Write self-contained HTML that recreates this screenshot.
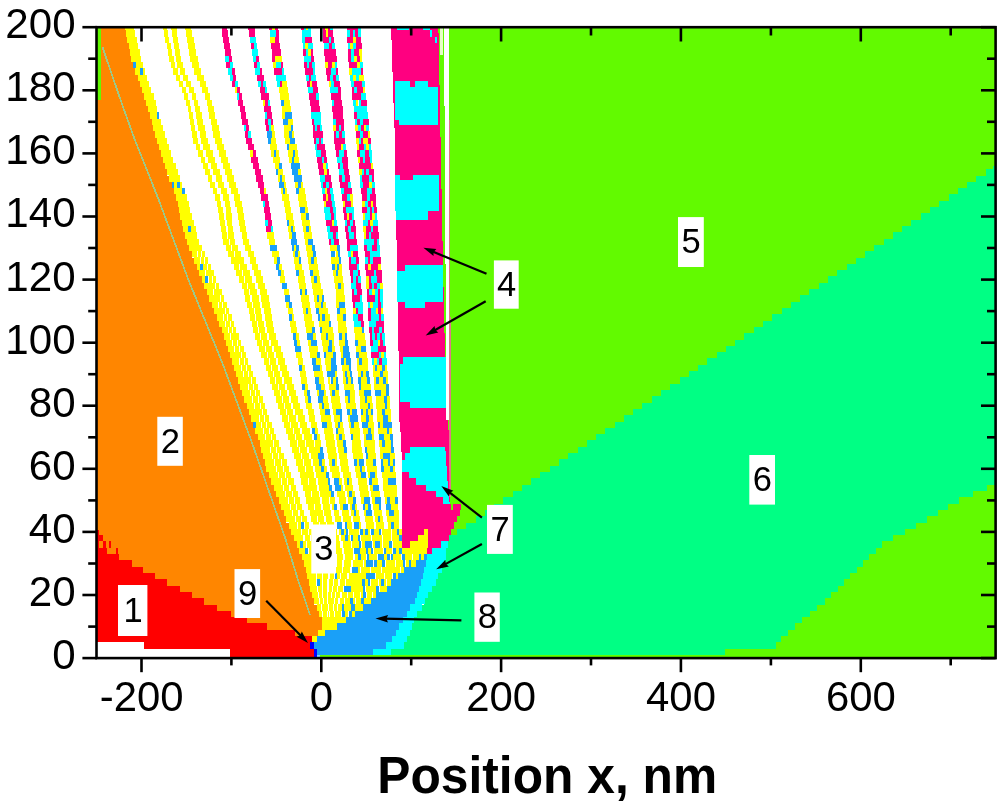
<!DOCTYPE html>
<html><head><meta charset="utf-8"><style>
html,body{margin:0;padding:0;background:#fff;}
svg{display:block;}
.tl{font-family:"Liberation Sans",Arial,sans-serif;font-size:43.2px;fill:#000;}
.title{font-family:"Liberation Sans",Arial,sans-serif;font-size:51.8px;font-weight:bold;fill:#000;}
.an{font-family:"Liberation Sans",Arial,sans-serif;font-size:34.5px;fill:#000;}
</style></head><body>
<svg width="1004" height="808" viewBox="0 0 1004 808">
<defs>
<clipPath id="pc"><rect x="96.5" y="27.2" width="899.1" height="630.9"/></clipPath>
</defs>
<rect width="1004" height="808" fill="#fff"/>
<g clip-path="url(#pc)" shape-rendering="crispEdges">
<rect x="96.5" y="27.2" width="899.1" height="630.9" fill="#62fa00"/>
<polygon points="124.8,27.2 124.8,30.4 125.9,30.4 125.9,36.7 127.3,36.7 127.3,43.0 128.7,43.0 128.7,49.3 130.1,49.3 130.1,55.6 131.4,55.6 131.4,61.9 133.0,61.9 133.0,68.2 135.2,68.2 135.2,74.5 137.5,74.5 137.5,80.8 139.8,80.8 139.8,87.1 142.0,87.1 142.0,93.4 144.3,93.4 144.3,99.8 146.3,99.8 146.3,106.1 148.0,106.1 148.0,112.4 149.8,112.4 149.8,118.7 151.5,118.7 151.5,125.0 153.2,125.0 153.2,131.3 155.0,131.3 155.0,137.6 156.8,137.6 156.8,143.9 158.9,143.9 158.9,150.2 161.0,150.2 161.0,156.5 163.1,156.5 163.1,162.8 165.2,162.8 165.2,169.2 167.3,169.2 167.3,175.5 169.4,175.5 169.4,181.8 171.5,181.8 171.5,188.1 173.7,188.1 173.7,194.4 175.8,194.4 175.8,200.7 177.5,200.7 177.5,207.0 178.9,207.0 178.9,213.3 180.4,213.3 180.4,219.6 181.8,219.6 181.8,225.9 183.3,225.9 183.3,232.2 184.7,232.2 184.7,238.6 186.5,238.6 186.5,244.9 189.0,244.9 189.0,251.2 191.6,251.2 191.6,257.5 194.1,257.5 194.1,263.8 196.7,263.8 196.7,270.1 199.2,270.1 199.2,276.4 201.8,276.4 201.8,282.7 204.3,282.7 204.3,289.0 206.8,289.0 206.8,295.3 209.3,295.3 209.3,301.6 211.7,301.6 211.7,308.0 214.2,308.0 214.2,314.3 216.6,314.3 216.6,320.6 219.1,320.6 219.1,326.9 221.5,326.9 221.5,333.2 223.6,333.2 223.6,339.5 225.7,339.5 225.7,345.8 227.8,345.8 227.8,352.1 229.8,352.1 229.8,358.4 231.9,358.4 231.9,364.7 234.0,364.7 234.0,371.0 236.1,371.0 236.1,377.3 238.2,377.3 238.2,383.7 240.2,383.7 240.2,390.0 242.3,390.0 242.3,396.3 244.4,396.3 244.4,402.6 246.6,402.6 246.6,408.9 248.8,408.9 248.8,415.2 251.0,415.2 251.0,421.5 253.2,421.5 253.2,427.8 255.4,427.8 255.4,434.1 257.6,434.1 257.6,440.4 259.5,440.4 259.5,446.7 261.1,446.7 261.1,453.1 262.8,453.1 262.8,459.4 264.5,459.4 264.5,465.7 266.2,465.7 266.2,472.0 268.6,472.0 268.6,478.3 271.1,478.3 271.1,484.6 273.6,484.6 273.6,490.9 276.1,490.9 276.1,497.2 278.6,497.2 278.6,503.5 281.2,503.5 281.2,509.8 283.7,509.8 283.7,516.1 286.2,516.1 286.2,522.5 288.7,522.5 288.7,528.8 291.4,528.8 291.4,535.1 294.2,535.1 294.2,541.4 296.8,541.4 296.8,547.7 299.3,547.7 299.3,554.0 301.7,554.0 301.7,560.3 303.8,560.3 303.8,566.6 305.9,566.6 305.9,572.9 307.2,572.9 307.2,579.2 308.5,579.2 308.5,585.5 310.0,585.5 310.0,591.9 311.7,591.9 311.7,598.2 313.7,598.2 313.7,604.5 317.0,604.5 317.0,610.8 318.6,610.8 318.6,617.1 322.3,617.1 322.3,623.4 322.3,623.4 322.3,629.7 317.8,629.7 317.8,636.0 311.9,636.0 311.9,642.3 311.9,642.3 311.9,642.3 430.0,642.3 430.0,540.0 406.0,540.0 406.0,470.0 405.0,440.0 403.0,400.0 401.0,290.0 400.0,220.0 399.0,140.0 397.0,100.0 395.0,27.2" fill="#fff" />
<polygon points="443.0,541.4 443.0,541.4 447.7,541.4 447.7,535.1 456.9,535.1 456.9,528.8 466.2,528.8 466.2,522.5 475.5,522.5 475.5,516.1 484.7,516.1 484.7,509.8 494.0,509.8 494.0,503.5 503.3,503.5 503.3,497.2 512.6,497.2 512.6,490.9 521.8,490.9 521.8,484.6 531.1,484.6 531.1,478.3 540.4,478.3 540.4,472.0 549.7,472.0 549.7,465.7 558.9,465.7 558.9,459.4 568.2,459.4 568.2,453.1 577.5,453.1 577.5,446.7 586.8,446.7 586.8,440.4 596.0,440.4 596.0,434.1 605.3,434.1 605.3,427.8 614.6,427.8 614.6,421.5 623.9,421.5 623.9,415.2 633.1,415.2 633.1,408.9 642.4,408.9 642.4,402.6 651.7,402.6 651.7,396.3 661.0,396.3 661.0,390.0 670.2,390.0 670.2,383.7 679.5,383.7 679.5,377.3 688.8,377.3 688.8,371.0 698.1,371.0 698.1,364.7 707.3,364.7 707.3,358.4 716.6,358.4 716.6,352.1 725.9,352.1 725.9,345.8 735.2,345.8 735.2,339.5 744.4,339.5 744.4,333.2 753.7,333.2 753.7,326.9 763.0,326.9 763.0,320.6 772.3,320.6 772.3,314.3 781.5,314.3 781.5,308.0 790.8,308.0 790.8,301.6 800.1,301.6 800.1,295.3 809.4,295.3 809.4,289.0 818.6,289.0 818.6,282.7 827.9,282.7 827.9,276.4 837.2,276.4 837.2,270.1 846.5,270.1 846.5,263.8 855.7,263.8 855.7,257.5 865.0,257.5 865.0,251.2 874.3,251.2 874.3,244.9 883.6,244.9 883.6,238.6 892.8,238.6 892.8,232.2 902.1,232.2 902.1,225.9 911.4,225.9 911.4,219.6 920.7,219.6 920.7,213.3 929.9,213.3 929.9,207.0 939.2,207.0 939.2,200.7 948.5,200.7 948.5,194.4 957.8,194.4 957.8,188.1 967.0,188.1 967.0,181.8 976.3,181.8 976.3,175.5 985.6,175.5 985.6,169.2 992.9,169.2 992.9,165.5 996.0,165.5 996.0,484.3 995.2,484.3 995.2,484.6 987.4,484.6 987.4,490.9 972.5,490.9 972.5,497.2 958.9,497.2 958.9,503.5 948.4,503.5 948.4,509.8 937.9,509.8 937.9,516.1 927.3,516.1 927.3,522.5 916.3,522.5 916.3,528.8 904.8,528.8 904.8,535.1 893.3,535.1 893.3,541.4 881.8,541.4 881.8,547.7 875.5,547.7 875.5,554.0 869.1,554.0 869.1,560.3 862.8,560.3 862.8,566.6 856.5,566.6 856.5,572.9 850.2,572.9 850.2,579.2 844.0,579.2 844.0,585.5 837.7,585.5 837.7,591.9 831.4,591.9 831.4,598.2 825.0,598.2 825.0,604.5 817.4,604.5 817.4,610.8 809.7,610.8 809.7,617.1 802.1,617.1 802.1,623.4 795.1,623.4 795.1,629.7 788.3,629.7 788.3,636.0 781.4,636.0 781.4,642.3 775.5,642.3 775.5,648.6 773.4,648.6 773.4,648.6 724.7,648.6 724.7,655.0 390.8,654.9 390.8,648.6 403.3,648.6 403.3,642.3 406.5,642.3 406.5,636.0 409.5,636.0 409.5,629.7 411.1,629.7 411.1,623.4 413.5,623.4 413.5,617.1 416.0,617.1 416.0,610.8 421.0,610.8 421.0,604.5 424.0,604.5 424.0,598.2 427.3,598.2 427.3,591.9 431.5,591.9 431.5,585.5 435.5,585.5 435.5,579.2 437.7,579.2 437.7,572.9 441.1,572.9 441.1,566.6 443.1,566.6 443.1,560.3 445.0,560.3 445.0,554.0 446.1,554.0 446.1,547.7 446.0,541.4" fill="#00ff84" />
<polygon points="96.5,27.2 124.8,27.2 124.8,30.4 125.9,30.4 125.9,36.7 127.3,36.7 127.3,43.0 128.7,43.0 128.7,49.3 130.1,49.3 130.1,55.6 131.4,55.6 131.4,61.9 133.0,61.9 133.0,68.2 135.2,68.2 135.2,74.5 137.5,74.5 137.5,80.8 139.8,80.8 139.8,87.1 142.0,87.1 142.0,93.4 144.3,93.4 144.3,99.8 146.3,99.8 146.3,106.1 148.0,106.1 148.0,112.4 149.8,112.4 149.8,118.7 151.5,118.7 151.5,125.0 153.2,125.0 153.2,131.3 155.0,131.3 155.0,137.6 156.8,137.6 156.8,143.9 158.9,143.9 158.9,150.2 161.0,150.2 161.0,156.5 163.1,156.5 163.1,162.8 165.2,162.8 165.2,169.2 167.3,169.2 167.3,175.5 169.4,175.5 169.4,181.8 171.5,181.8 171.5,188.1 173.7,188.1 173.7,194.4 175.8,194.4 175.8,200.7 177.5,200.7 177.5,207.0 178.9,207.0 178.9,213.3 180.4,213.3 180.4,219.6 181.8,219.6 181.8,225.9 183.3,225.9 183.3,232.2 184.7,232.2 184.7,238.6 186.5,238.6 186.5,244.9 189.0,244.9 189.0,251.2 191.6,251.2 191.6,257.5 194.1,257.5 194.1,263.8 196.7,263.8 196.7,270.1 199.2,270.1 199.2,276.4 201.8,276.4 201.8,282.7 204.3,282.7 204.3,289.0 206.8,289.0 206.8,295.3 209.3,295.3 209.3,301.6 211.7,301.6 211.7,308.0 214.2,308.0 214.2,314.3 216.6,314.3 216.6,320.6 219.1,320.6 219.1,326.9 221.5,326.9 221.5,333.2 223.6,333.2 223.6,339.5 225.7,339.5 225.7,345.8 227.8,345.8 227.8,352.1 229.8,352.1 229.8,358.4 231.9,358.4 231.9,364.7 234.0,364.7 234.0,371.0 236.1,371.0 236.1,377.3 238.2,377.3 238.2,383.7 240.2,383.7 240.2,390.0 242.3,390.0 242.3,396.3 244.4,396.3 244.4,402.6 246.6,402.6 246.6,408.9 248.8,408.9 248.8,415.2 251.0,415.2 251.0,421.5 253.2,421.5 253.2,427.8 255.4,427.8 255.4,434.1 257.6,434.1 257.6,440.4 259.5,440.4 259.5,446.7 261.1,446.7 261.1,453.1 262.8,453.1 262.8,459.4 264.5,459.4 264.5,465.7 266.2,465.7 266.2,472.0 268.6,472.0 268.6,478.3 271.1,478.3 271.1,484.6 273.6,484.6 273.6,490.9 276.1,490.9 276.1,497.2 278.6,497.2 278.6,503.5 281.2,503.5 281.2,509.8 283.7,509.8 283.7,516.1 286.2,516.1 286.2,522.5 288.7,522.5 288.7,528.8 291.4,528.8 291.4,535.1 294.2,535.1 294.2,541.4 296.8,541.4 296.8,547.7 299.3,547.7 299.3,554.0 301.7,554.0 301.7,560.3 303.8,560.3 303.8,566.6 305.9,566.6 305.9,572.9 307.2,572.9 307.2,579.2 308.5,579.2 308.5,585.5 310.0,585.5 310.0,591.9 311.7,591.9 311.7,598.2 313.7,598.2 313.7,604.5 317.0,604.5 317.0,610.8 318.6,610.8 318.6,617.1 322.3,617.1 322.3,623.4 322.3,623.4 322.3,629.7 317.8,629.7 317.8,636.0 311.9,636.0 311.9,642.3 311.9,642.3 311.9,642.3 311.9,658.1 96.5,658.1" fill="#ff8600" />
<polygon points="96.5,642.3 96.5,547.7 97.5,547.7 107.3,547.7 107.3,554.0 118.6,554.0 118.6,560.3 131.6,560.3 131.6,566.6 142.9,566.6 142.9,572.9 155.0,572.9 155.0,579.2 167.1,579.2 167.1,585.5 180.1,585.5 180.1,591.9 192.2,591.9 192.2,598.2 204.3,598.2 204.3,604.5 216.7,604.5 216.7,610.8 231.4,610.8 231.4,617.1 247.4,617.1 247.4,623.4 266.9,623.4 266.9,629.7 294.8,629.7 294.8,636.0 311.9,636.0 311.9,642.3 310.0,642.3 310.0,648.6 314.1,648.6 314.1,658.1 230.0,658.1 230.0,648.6 143.7,648.6 143.7,642.3" fill="#ff0000" />
<rect x="98.4" y="535.07" width="4.8" height="6.31" fill="#ff0000"/>
<rect x="103.2" y="541.38" width="3.2" height="6.31" fill="#ff0000"/>
<rect x="108.7" y="541.38" width="2.4" height="6.31" fill="#ff0000"/>
<rect x="116.3" y="547.69" width="1.6" height="6.31" fill="#ff0000"/>
<rect x="96.5" y="529.5" width="2.3" height="20" fill="#ff0000"/>
<rect x="96.5" y="642.33" width="47.2" height="16" fill="#fff"/>
<rect x="143.7" y="648.64" width="86.3" height="10" fill="#fff"/>
<rect x="310.0" y="642.33" width="4.1" height="6.31" fill="#0000ff"/>
<rect x="314.1" y="648.64" width="3.0" height="6.31" fill="#0000ff"/>
<rect x="314.1" y="654.95" width="2.9" height="3.15" fill="#0000ff"/>
<rect x="317.0" y="654.95" width="3.0" height="3.15" fill="#7fd0ff"/>
<rect x="317.1" y="648.64" width="55.9" height="6.31" fill="#1aa0f8"/>
<rect x="314.1" y="642.33" width="72.3" height="6.31" fill="#1aa0f8"/>
<rect x="317.1" y="636.02" width="74.9" height="6.31" fill="#1aa0f8"/>
<rect x="324.9" y="629.71" width="70.6" height="6.31" fill="#1aa0f8"/>
<rect x="337.1" y="623.40" width="61.9" height="6.31" fill="#1aa0f8"/>
<rect x="346.0" y="617.09" width="57.3" height="6.31" fill="#1aa0f8"/>
<rect x="354.9" y="610.78" width="52.3" height="6.31" fill="#1aa0f8"/>
<rect x="363.4" y="604.47" width="46.9" height="6.31" fill="#1aa0f8"/>
<rect x="371.3" y="598.16" width="43.3" height="6.31" fill="#1aa0f8"/>
<rect x="378.4" y="591.86" width="38.8" height="6.31" fill="#1aa0f8"/>
<rect x="386.6" y="585.55" width="32.2" height="6.31" fill="#1aa0f8"/>
<rect x="393.9" y="579.24" width="26.7" height="6.31" fill="#1aa0f8"/>
<rect x="401.1" y="572.93" width="21.7" height="6.31" fill="#1aa0f8"/>
<rect x="409.5" y="566.62" width="14.5" height="6.31" fill="#1aa0f8"/>
<rect x="416.1" y="560.31" width="9.5" height="6.31" fill="#1aa0f8"/>
<rect x="424.0" y="554.00" width="2.7" height="6.31" fill="#1aa0f8"/>
<rect x="373.0" y="648.64" width="18.3" height="6.31" fill="#00ffff"/>
<rect x="386.4" y="642.33" width="17.4" height="6.31" fill="#00ffff"/>
<rect x="392.0" y="636.02" width="15.0" height="6.31" fill="#00ffff"/>
<rect x="395.5" y="629.71" width="14.5" height="6.31" fill="#00ffff"/>
<rect x="399.0" y="623.40" width="12.6" height="6.31" fill="#00ffff"/>
<rect x="403.3" y="617.09" width="10.7" height="6.31" fill="#00ffff"/>
<rect x="407.2" y="610.78" width="9.3" height="6.31" fill="#00ffff"/>
<rect x="410.3" y="604.47" width="11.2" height="6.31" fill="#00ffff"/>
<rect x="414.6" y="598.16" width="9.9" height="6.31" fill="#00ffff"/>
<rect x="417.2" y="591.86" width="10.6" height="6.31" fill="#00ffff"/>
<rect x="418.8" y="585.55" width="13.2" height="6.31" fill="#00ffff"/>
<rect x="420.6" y="579.24" width="15.4" height="6.31" fill="#00ffff"/>
<rect x="422.8" y="572.93" width="15.4" height="6.31" fill="#00ffff"/>
<rect x="424.0" y="566.62" width="17.6" height="6.31" fill="#00ffff"/>
<rect x="425.6" y="560.31" width="18.0" height="6.31" fill="#00ffff"/>
<rect x="426.7" y="554.00" width="18.8" height="6.31" fill="#00ffff"/>
<polygon points="391.1,27.2 438.4,27.2 442.7,250.0 446.0,400.0 449.4,440.0 449.6,497.2 401.7,497.2 401.7,470.0 401.4,440.0 399.3,420.0 397.8,290.0 396.0,220.0 395.0,140.0 393.4,100.0" fill="#ff0080" />
<rect x="401.7" y="497.22" width="47.9" height="6.31" fill="#ff0080"/>
<rect x="401.7" y="503.53" width="49.0" height="6.31" fill="#ff0080"/>
<rect x="453.0" y="503.53" width="7.7" height="6.31" fill="#ff0080"/>
<rect x="401.7" y="509.84" width="57.9" height="6.31" fill="#ff0080"/>
<rect x="401.7" y="516.15" width="55.1" height="6.31" fill="#ff0080"/>
<rect x="401.7" y="522.46" width="52.3" height="6.31" fill="#ff0080"/>
<rect x="401.7" y="528.77" width="22.3" height="6.31" fill="#ff0080"/>
<rect x="424.0" y="528.77" width="4.4" height="6.31" fill="#ffff00"/>
<rect x="428.4" y="528.77" width="22.9" height="6.31" fill="#ff0080"/>
<rect x="401.7" y="535.07" width="16.1" height="6.31" fill="#ff0080"/>
<rect x="417.8" y="535.07" width="10.6" height="6.31" fill="#ffff00"/>
<rect x="428.4" y="535.07" width="20.6" height="6.31" fill="#ff0080"/>
<rect x="401.7" y="541.38" width="8.3" height="6.31" fill="#ff0080"/>
<rect x="410.0" y="541.38" width="18.4" height="6.31" fill="#ffff00"/>
<rect x="428.4" y="541.38" width="12.3" height="6.31" fill="#ff0080"/>
<rect x="440.7" y="541.38" width="7.2" height="6.31" fill="#00ffff"/>
<rect x="401.7" y="547.69" width="25.6" height="6.31" fill="#ffff00"/>
<rect x="427.3" y="547.69" width="5.0" height="6.31" fill="#ff0080"/>
<rect x="432.3" y="547.69" width="13.9" height="6.31" fill="#00ffff"/>
<polygon points="394.9,87.4 394.9,81.2 409.7,81.2 409.7,87.4 414.7,87.4 414.7,81.2 428.3,81.2 428.3,87.4 438.2,87.4 438.2,124.5 399.0,124.5 399.0,119.6 394.9,119.6" fill="#00ffff" />
<polygon points="394.9,175.3 400.0,175.3 400.0,180.2 413.4,180.2 413.4,175.3 439.4,175.3 439.4,211.0 428.0,211.0 428.0,219.8 396.0,219.8 396.0,211.0 394.9,211.0" fill="#00ffff" />
<polygon points="397.3,270.9 405.0,270.9 405.0,264.6 443.1,264.6 443.1,301.6 425.0,301.6 425.0,307.9 405.0,307.9 405.0,301.6 397.3,301.6" fill="#00ffff" />
<polygon points="399.8,363.7 403.0,363.7 403.0,357.4 445.6,357.4 445.6,408.1 410.0,408.1 410.0,401.8 399.8,401.8" fill="#00ffff" />
<polygon points="409.5,447.4 445.3,447.4 447.4,480.0 449.6,503.5 443.0,503.5 443.0,497.2 435.8,497.2 435.8,490.9 426.3,490.9 426.3,484.6 415.8,484.6 415.8,478.3 409.0,478.3 409.0,472.0 402.1,472.0 402.1,459.7 405.0,459.7 405.0,453.4 409.5,453.4" fill="#00ffff" />
<rect x="396.7" y="27.2" width="12.3" height="3.15" fill="#00ffff"/>
<rect x="423" y="27.2" width="6.6" height="3.15" fill="#00ffff"/>
<rect x="430" y="30.35" width="2.0" height="6.35" fill="#00ffff"/>
<rect x="435" y="36.7" width="2.4" height="6.30" fill="#00ffff"/>
<rect x="124.8" y="27.20" width="8.9" height="3.15" fill="#ffff00"/>
<rect x="163.1" y="27.20" width="3.7" height="3.15" fill="#ffff00"/>
<rect x="171.2" y="27.20" width="5.5" height="3.15" fill="#ffff00"/>
<rect x="185.0" y="27.20" width="6.4" height="3.15" fill="#ffff00"/>
<rect x="221.6" y="27.20" width="5.5" height="3.15" fill="#ff0080"/>
<rect x="248.1" y="27.20" width="6.5" height="3.15" fill="#ff0080"/>
<rect x="269.1" y="27.20" width="2.9" height="3.15" fill="#ff0080"/>
<rect x="272.0" y="27.20" width="2.9" height="3.15" fill="#ffff00"/>
<rect x="274.8" y="27.20" width="2.9" height="3.15" fill="#ff0080"/>
<rect x="301.3" y="27.20" width="2.4" height="3.15" fill="#ff0080"/>
<rect x="303.6" y="27.20" width="2.4" height="3.15" fill="#00ffff"/>
<rect x="306.0" y="27.20" width="2.4" height="3.15" fill="#ffff00"/>
<rect x="308.4" y="27.20" width="2.4" height="3.15" fill="#00ffff"/>
<rect x="322.6" y="27.20" width="2.5" height="3.15" fill="#ff0080"/>
<rect x="325.1" y="27.20" width="2.5" height="3.15" fill="#ffff00"/>
<rect x="327.6" y="27.20" width="2.5" height="3.15" fill="#ff0080"/>
<rect x="330.1" y="27.20" width="2.5" height="3.15" fill="#00ffff"/>
<rect x="346.6" y="27.20" width="11.4" height="3.15" fill="#ff0080"/>
<rect x="358.0" y="27.20" width="2.8" height="3.15" fill="#00ffff"/>
<rect x="125.9" y="30.35" width="9.1" height="6.31" fill="#ffff00"/>
<rect x="164.0" y="30.35" width="3.9" height="6.31" fill="#ffff00"/>
<rect x="171.9" y="30.35" width="5.5" height="6.31" fill="#ffff00"/>
<rect x="185.9" y="30.35" width="6.5" height="6.31" fill="#ffff00"/>
<rect x="222.2" y="30.35" width="5.7" height="6.31" fill="#ff0080"/>
<rect x="248.9" y="30.35" width="6.5" height="6.31" fill="#ff0080"/>
<rect x="269.6" y="30.35" width="5.9" height="6.31" fill="#00ffff"/>
<rect x="275.5" y="30.35" width="3.0" height="6.31" fill="#ff0080"/>
<rect x="301.6" y="30.35" width="9.7" height="6.31" fill="#00ffff"/>
<rect x="323.0" y="30.35" width="2.6" height="6.31" fill="#ff0080"/>
<rect x="325.5" y="30.35" width="2.6" height="6.31" fill="#ffff00"/>
<rect x="328.1" y="30.35" width="5.1" height="6.31" fill="#ff0080"/>
<rect x="346.9" y="30.35" width="2.8" height="6.31" fill="#00ffff"/>
<rect x="349.7" y="30.35" width="2.8" height="6.31" fill="#ff0080"/>
<rect x="352.6" y="30.35" width="2.8" height="6.31" fill="#00ffff"/>
<rect x="355.4" y="30.35" width="2.8" height="6.31" fill="#ff0080"/>
<rect x="358.3" y="30.35" width="2.8" height="6.31" fill="#00ffff"/>
<rect x="127.3" y="36.66" width="9.3" height="6.31" fill="#ffff00"/>
<rect x="165.2" y="36.66" width="4.1" height="6.31" fill="#ffff00"/>
<rect x="172.9" y="36.66" width="5.5" height="6.31" fill="#ffff00"/>
<rect x="187.0" y="36.66" width="6.7" height="6.31" fill="#ffff00"/>
<rect x="223.0" y="36.66" width="5.8" height="6.31" fill="#ff0080"/>
<rect x="249.8" y="36.66" width="6.5" height="6.31" fill="#00ffff"/>
<rect x="270.2" y="36.66" width="4.6" height="6.31" fill="#ffff00"/>
<rect x="274.8" y="36.66" width="4.6" height="6.31" fill="#ff0080"/>
<rect x="302.1" y="36.66" width="2.5" height="6.31" fill="#00ffff"/>
<rect x="304.6" y="36.66" width="7.4" height="6.31" fill="#ff0080"/>
<rect x="323.4" y="36.66" width="5.3" height="6.31" fill="#ff0080"/>
<rect x="328.7" y="36.66" width="2.7" height="6.31" fill="#00ffff"/>
<rect x="331.4" y="36.66" width="2.7" height="6.31" fill="#ff0080"/>
<rect x="347.2" y="36.66" width="5.7" height="6.31" fill="#ff0080"/>
<rect x="352.9" y="36.66" width="2.8" height="6.31" fill="#ffff00"/>
<rect x="355.7" y="36.66" width="5.7" height="6.31" fill="#ff0080"/>
<rect x="128.7" y="42.97" width="9.5" height="6.31" fill="#ffff00"/>
<rect x="166.5" y="42.97" width="4.3" height="6.31" fill="#ffff00"/>
<rect x="173.9" y="42.97" width="5.4" height="6.31" fill="#ffff00"/>
<rect x="188.1" y="42.97" width="6.9" height="6.31" fill="#ffff00"/>
<rect x="223.8" y="42.97" width="6.0" height="6.31" fill="#ff0080"/>
<rect x="250.8" y="42.97" width="3.2" height="6.31" fill="#ff0080"/>
<rect x="254.0" y="42.97" width="3.2" height="6.31" fill="#00ffff"/>
<rect x="270.9" y="42.97" width="9.5" height="6.31" fill="#ff0080"/>
<rect x="302.6" y="42.97" width="2.5" height="6.31" fill="#00ffff"/>
<rect x="305.1" y="42.97" width="2.5" height="6.31" fill="#ffff00"/>
<rect x="307.6" y="42.97" width="5.0" height="6.31" fill="#00ffff"/>
<rect x="323.8" y="42.97" width="5.6" height="6.31" fill="#00ffff"/>
<rect x="329.3" y="42.97" width="2.8" height="6.31" fill="#ff0080"/>
<rect x="332.1" y="42.97" width="2.8" height="6.31" fill="#00ffff"/>
<rect x="347.6" y="42.97" width="2.8" height="6.31" fill="#00ffff"/>
<rect x="350.4" y="42.97" width="2.8" height="6.31" fill="#ffff00"/>
<rect x="353.2" y="42.97" width="2.8" height="6.31" fill="#00ffff"/>
<rect x="356.1" y="42.97" width="5.7" height="6.31" fill="#ff0080"/>
<rect x="130.1" y="49.28" width="9.7" height="6.31" fill="#ffff00"/>
<rect x="167.7" y="49.28" width="4.4" height="6.31" fill="#ffff00"/>
<rect x="174.8" y="49.28" width="5.4" height="6.31" fill="#ffff00"/>
<rect x="189.2" y="49.28" width="7.0" height="6.31" fill="#ffff00"/>
<rect x="224.6" y="49.28" width="6.2" height="6.31" fill="#ff0080"/>
<rect x="251.8" y="49.28" width="6.4" height="6.31" fill="#00ffff"/>
<rect x="271.6" y="49.28" width="9.8" height="6.31" fill="#ff0080"/>
<rect x="303.1" y="49.28" width="2.5" height="6.31" fill="#ff0080"/>
<rect x="305.6" y="49.28" width="2.5" height="6.31" fill="#00ffff"/>
<rect x="308.2" y="49.28" width="2.5" height="6.31" fill="#ffff00"/>
<rect x="310.7" y="49.28" width="2.5" height="6.31" fill="#ff0080"/>
<rect x="324.2" y="49.28" width="11.5" height="6.31" fill="#ff0080"/>
<rect x="347.9" y="49.28" width="2.8" height="6.31" fill="#ff0080"/>
<rect x="350.7" y="49.28" width="2.8" height="6.31" fill="#00ffff"/>
<rect x="353.6" y="49.28" width="5.7" height="6.31" fill="#ff0080"/>
<rect x="359.2" y="49.28" width="2.8" height="6.31" fill="#ffff00"/>
<rect x="131.4" y="55.59" width="9.9" height="6.31" fill="#ffff00"/>
<rect x="169.0" y="55.59" width="4.6" height="6.31" fill="#ffff00"/>
<rect x="175.8" y="55.59" width="5.4" height="6.31" fill="#ffff00"/>
<rect x="190.4" y="55.59" width="7.2" height="6.31" fill="#ffff00"/>
<rect x="225.3" y="55.59" width="3.2" height="6.31" fill="#00ffff"/>
<rect x="228.5" y="55.59" width="3.2" height="6.31" fill="#ff0080"/>
<rect x="252.8" y="55.59" width="3.2" height="6.31" fill="#00ffff"/>
<rect x="256.0" y="55.59" width="3.2" height="6.31" fill="#ff0080"/>
<rect x="272.2" y="55.59" width="2.5" height="6.31" fill="#ff0080"/>
<rect x="274.8" y="55.59" width="7.6" height="6.31" fill="#ffff00"/>
<rect x="303.6" y="55.59" width="7.8" height="6.31" fill="#00ffff"/>
<rect x="311.4" y="55.59" width="2.6" height="6.31" fill="#ff0080"/>
<rect x="324.6" y="55.59" width="11.9" height="6.31" fill="#ff0080"/>
<rect x="348.2" y="55.59" width="2.8" height="6.31" fill="#ff0080"/>
<rect x="351.1" y="55.59" width="2.8" height="6.31" fill="#00ffff"/>
<rect x="353.9" y="55.59" width="2.8" height="6.31" fill="#ffff00"/>
<rect x="356.7" y="55.59" width="2.8" height="6.31" fill="#ff0080"/>
<rect x="359.6" y="55.59" width="2.8" height="6.31" fill="#ffff00"/>
<rect x="133.0" y="61.90" width="2.5" height="6.31" fill="#1aa0f8"/>
<rect x="135.5" y="61.90" width="7.6" height="6.31" fill="#ffff00"/>
<rect x="170.5" y="61.90" width="4.8" height="6.31" fill="#ffff00"/>
<rect x="177.1" y="61.90" width="5.4" height="6.31" fill="#ffff00"/>
<rect x="191.7" y="61.90" width="7.2" height="6.31" fill="#ffff00"/>
<rect x="226.3" y="61.90" width="3.2" height="6.31" fill="#ff0080"/>
<rect x="229.6" y="61.90" width="3.2" height="6.31" fill="#00ffff"/>
<rect x="253.9" y="61.90" width="3.2" height="6.31" fill="#ff0080"/>
<rect x="257.1" y="61.90" width="3.2" height="6.31" fill="#00ffff"/>
<rect x="273.0" y="61.90" width="2.6" height="6.31" fill="#ffff00"/>
<rect x="275.6" y="61.90" width="5.2" height="6.31" fill="#00ffff"/>
<rect x="280.8" y="61.90" width="2.6" height="6.31" fill="#ff0080"/>
<rect x="304.2" y="61.90" width="2.6" height="6.31" fill="#ff0080"/>
<rect x="306.8" y="61.90" width="2.6" height="6.31" fill="#00ffff"/>
<rect x="309.4" y="61.90" width="2.6" height="6.31" fill="#ff0080"/>
<rect x="312.0" y="61.90" width="2.6" height="6.31" fill="#00ffff"/>
<rect x="325.1" y="61.90" width="2.4" height="6.31" fill="#ffff00"/>
<rect x="327.5" y="61.90" width="4.9" height="6.31" fill="#ff0080"/>
<rect x="332.4" y="61.90" width="2.4" height="6.31" fill="#ffff00"/>
<rect x="334.9" y="61.90" width="2.4" height="6.31" fill="#00ffff"/>
<rect x="348.6" y="61.90" width="8.5" height="6.31" fill="#ff0080"/>
<rect x="357.1" y="61.90" width="2.8" height="6.31" fill="#ffff00"/>
<rect x="360.0" y="61.90" width="2.8" height="6.31" fill="#00ffff"/>
<rect x="135.2" y="68.21" width="4.9" height="6.31" fill="#ffff00"/>
<rect x="140.2" y="68.21" width="2.5" height="6.31" fill="#1aa0f8"/>
<rect x="142.7" y="68.21" width="2.5" height="6.31" fill="#ffff00"/>
<rect x="173.2" y="68.21" width="4.6" height="6.31" fill="#ffff00"/>
<rect x="180.0" y="68.21" width="5.3" height="6.31" fill="#ffff00"/>
<rect x="194.3" y="68.21" width="6.9" height="6.31" fill="#ffff00"/>
<rect x="228.4" y="68.21" width="3.1" height="6.31" fill="#00ffff"/>
<rect x="231.5" y="68.21" width="3.1" height="6.31" fill="#ff0080"/>
<rect x="255.4" y="68.21" width="4.4" height="6.31" fill="#00ffff"/>
<rect x="259.8" y="68.21" width="2.2" height="6.31" fill="#ff0080"/>
<rect x="274.4" y="68.21" width="7.5" height="6.31" fill="#ff0080"/>
<rect x="281.9" y="68.21" width="2.5" height="6.31" fill="#00ffff"/>
<rect x="305.1" y="68.21" width="7.7" height="6.31" fill="#ff0080"/>
<rect x="312.8" y="68.21" width="2.6" height="6.31" fill="#00ffff"/>
<rect x="326.3" y="68.21" width="4.7" height="6.31" fill="#ff0080"/>
<rect x="331.0" y="68.21" width="4.7" height="6.31" fill="#00ffff"/>
<rect x="335.8" y="68.21" width="2.4" height="6.31" fill="#ff0080"/>
<rect x="349.4" y="68.21" width="2.8" height="6.31" fill="#ffff00"/>
<rect x="352.2" y="68.21" width="8.4" height="6.31" fill="#00ffff"/>
<rect x="360.6" y="68.21" width="2.8" height="6.31" fill="#ff0080"/>
<rect x="137.5" y="74.52" width="9.7" height="6.31" fill="#ffff00"/>
<rect x="176.0" y="74.52" width="4.4" height="6.31" fill="#ffff00"/>
<rect x="182.8" y="74.52" width="5.1" height="6.31" fill="#ffff00"/>
<rect x="196.9" y="74.52" width="6.6" height="6.31" fill="#ffff00"/>
<rect x="230.4" y="74.52" width="3.0" height="6.31" fill="#00ffff"/>
<rect x="233.4" y="74.52" width="3.0" height="6.31" fill="#ff0080"/>
<rect x="256.9" y="74.52" width="6.9" height="6.31" fill="#ff0080"/>
<rect x="275.8" y="74.52" width="9.7" height="6.31" fill="#00ffff"/>
<rect x="306.1" y="74.52" width="2.5" height="6.31" fill="#00ffff"/>
<rect x="308.6" y="74.52" width="2.5" height="6.31" fill="#ff0080"/>
<rect x="311.1" y="74.52" width="5.0" height="6.31" fill="#00ffff"/>
<rect x="327.4" y="74.52" width="2.9" height="6.31" fill="#ff0080"/>
<rect x="330.3" y="74.52" width="2.9" height="6.31" fill="#00ffff"/>
<rect x="333.2" y="74.52" width="2.9" height="6.31" fill="#ff0080"/>
<rect x="336.1" y="74.52" width="2.9" height="6.31" fill="#00ffff"/>
<rect x="350.1" y="74.52" width="2.8" height="6.31" fill="#00ffff"/>
<rect x="352.9" y="74.52" width="2.8" height="6.31" fill="#ffff00"/>
<rect x="355.7" y="74.52" width="2.8" height="6.31" fill="#00ffff"/>
<rect x="358.5" y="74.52" width="5.6" height="6.31" fill="#ffff00"/>
<rect x="139.8" y="80.83" width="9.5" height="6.31" fill="#ffff00"/>
<rect x="178.8" y="80.83" width="4.2" height="6.31" fill="#ffff00"/>
<rect x="185.7" y="80.83" width="5.0" height="6.31" fill="#ffff00"/>
<rect x="199.5" y="80.83" width="6.2" height="6.31" fill="#ffff00"/>
<rect x="232.4" y="80.83" width="2.9" height="6.31" fill="#ff0080"/>
<rect x="235.3" y="80.83" width="2.9" height="6.31" fill="#00ffff"/>
<rect x="258.4" y="80.83" width="2.4" height="6.31" fill="#00ffff"/>
<rect x="260.7" y="80.83" width="2.4" height="6.31" fill="#ff0080"/>
<rect x="263.1" y="80.83" width="2.4" height="6.31" fill="#00ffff"/>
<rect x="277.2" y="80.83" width="2.3" height="6.31" fill="#00ffff"/>
<rect x="279.6" y="80.83" width="2.3" height="6.31" fill="#ff0080"/>
<rect x="281.9" y="80.83" width="4.7" height="6.31" fill="#ffff00"/>
<rect x="307.1" y="80.83" width="2.5" height="6.31" fill="#ff0080"/>
<rect x="309.6" y="80.83" width="2.5" height="6.31" fill="#ffff00"/>
<rect x="312.0" y="80.83" width="4.9" height="6.31" fill="#ff0080"/>
<rect x="328.6" y="80.83" width="2.8" height="6.31" fill="#ffff00"/>
<rect x="331.4" y="80.83" width="2.8" height="6.31" fill="#00ffff"/>
<rect x="334.2" y="80.83" width="5.6" height="6.31" fill="#ff0080"/>
<rect x="350.9" y="80.83" width="2.8" height="6.31" fill="#00ffff"/>
<rect x="353.6" y="80.83" width="8.3" height="6.31" fill="#ff0080"/>
<rect x="361.9" y="80.83" width="2.8" height="6.31" fill="#00ffff"/>
<rect x="142.0" y="87.14" width="9.4" height="6.31" fill="#ffff00"/>
<rect x="181.5" y="87.14" width="4.0" height="6.31" fill="#ffff00"/>
<rect x="188.6" y="87.14" width="4.9" height="6.31" fill="#ffff00"/>
<rect x="202.0" y="87.14" width="5.9" height="6.31" fill="#ffff00"/>
<rect x="234.5" y="87.14" width="2.7" height="6.31" fill="#ffff00"/>
<rect x="237.2" y="87.14" width="2.7" height="6.31" fill="#ff0080"/>
<rect x="259.9" y="87.14" width="4.9" height="6.31" fill="#ff0080"/>
<rect x="264.7" y="87.14" width="2.4" height="6.31" fill="#00ffff"/>
<rect x="278.6" y="87.14" width="9.0" height="6.31" fill="#ffff00"/>
<rect x="308.1" y="87.14" width="4.8" height="6.31" fill="#00ffff"/>
<rect x="312.9" y="87.14" width="4.8" height="6.31" fill="#ff0080"/>
<rect x="329.8" y="87.14" width="8.1" height="6.31" fill="#00ffff"/>
<rect x="337.9" y="87.14" width="2.7" height="6.31" fill="#ff0080"/>
<rect x="351.6" y="87.14" width="2.7" height="6.31" fill="#ff0080"/>
<rect x="354.4" y="87.14" width="2.7" height="6.31" fill="#00ffff"/>
<rect x="357.1" y="87.14" width="5.5" height="6.31" fill="#ff0080"/>
<rect x="362.6" y="87.14" width="2.7" height="6.31" fill="#ffff00"/>
<rect x="144.3" y="93.44" width="9.2" height="6.31" fill="#ffff00"/>
<rect x="184.3" y="93.44" width="3.8" height="6.31" fill="#ffff00"/>
<rect x="191.5" y="93.44" width="4.8" height="6.31" fill="#ffff00"/>
<rect x="204.6" y="93.44" width="5.6" height="6.31" fill="#ffff00"/>
<rect x="236.5" y="93.44" width="2.6" height="6.31" fill="#00ffff"/>
<rect x="239.1" y="93.44" width="2.6" height="6.31" fill="#ff0080"/>
<rect x="261.4" y="93.44" width="7.5" height="6.31" fill="#ff0080"/>
<rect x="280.0" y="93.44" width="8.7" height="6.31" fill="#ffff00"/>
<rect x="309.1" y="93.44" width="7.1" height="6.31" fill="#ff0080"/>
<rect x="316.1" y="93.44" width="2.4" height="6.31" fill="#00ffff"/>
<rect x="331.0" y="93.44" width="10.4" height="6.31" fill="#ff0080"/>
<rect x="352.4" y="93.44" width="8.1" height="6.31" fill="#ff0080"/>
<rect x="360.5" y="93.44" width="5.4" height="6.31" fill="#00ffff"/>
<rect x="146.3" y="99.75" width="9.2" height="6.31" fill="#ffff00"/>
<rect x="186.3" y="99.75" width="3.8" height="6.31" fill="#ffff00"/>
<rect x="193.5" y="99.75" width="4.9" height="6.31" fill="#ffff00"/>
<rect x="206.6" y="99.75" width="5.5" height="6.31" fill="#ffff00"/>
<rect x="238.2" y="99.75" width="5.2" height="6.31" fill="#ff0080"/>
<rect x="262.6" y="99.75" width="2.5" height="6.31" fill="#ffff00"/>
<rect x="265.2" y="99.75" width="2.5" height="6.31" fill="#ff0080"/>
<rect x="267.7" y="99.75" width="2.5" height="6.31" fill="#00ffff"/>
<rect x="281.1" y="99.75" width="2.9" height="6.31" fill="#1aa0f8"/>
<rect x="284.0" y="99.75" width="5.7" height="6.31" fill="#ffff00"/>
<rect x="309.9" y="99.75" width="9.3" height="6.31" fill="#ff0080"/>
<rect x="331.8" y="99.75" width="2.6" height="6.31" fill="#00ffff"/>
<rect x="334.3" y="99.75" width="7.7" height="6.31" fill="#ff0080"/>
<rect x="353.0" y="99.75" width="2.7" height="6.31" fill="#00ffff"/>
<rect x="355.7" y="99.75" width="2.7" height="6.31" fill="#ffff00"/>
<rect x="358.5" y="99.75" width="2.7" height="6.31" fill="#00ffff"/>
<rect x="361.2" y="99.75" width="5.4" height="6.31" fill="#ff0080"/>
<rect x="148.0" y="106.06" width="9.3" height="6.31" fill="#ffff00"/>
<rect x="187.5" y="106.06" width="3.9" height="6.31" fill="#ffff00"/>
<rect x="194.7" y="106.06" width="5.3" height="6.31" fill="#ffff00"/>
<rect x="207.9" y="106.06" width="5.8" height="6.31" fill="#ffff00"/>
<rect x="239.5" y="106.06" width="5.3" height="6.31" fill="#ff0080"/>
<rect x="263.5" y="106.06" width="7.6" height="6.31" fill="#ff0080"/>
<rect x="281.8" y="106.06" width="8.9" height="6.31" fill="#ffff00"/>
<rect x="310.6" y="106.06" width="9.3" height="6.31" fill="#ff0080"/>
<rect x="332.2" y="106.06" width="10.4" height="6.31" fill="#ff0080"/>
<rect x="353.5" y="106.06" width="13.7" height="6.31" fill="#00ffff"/>
<rect x="149.8" y="112.37" width="7.1" height="6.31" fill="#ffff00"/>
<rect x="156.9" y="112.37" width="2.4" height="6.31" fill="#1aa0f8"/>
<rect x="188.6" y="112.37" width="4.1" height="6.31" fill="#ffff00"/>
<rect x="195.9" y="112.37" width="5.7" height="6.31" fill="#ffff00"/>
<rect x="209.2" y="112.37" width="6.1" height="6.31" fill="#ffff00"/>
<rect x="240.9" y="112.37" width="5.4" height="6.31" fill="#ff0080"/>
<rect x="264.5" y="112.37" width="2.5" height="6.31" fill="#00ffff"/>
<rect x="267.0" y="112.37" width="5.1" height="6.31" fill="#ff0080"/>
<rect x="282.4" y="112.37" width="2.3" height="6.31" fill="#ffff00"/>
<rect x="284.7" y="112.37" width="6.9" height="6.31" fill="#1aa0f8"/>
<rect x="311.2" y="112.37" width="9.3" height="6.31" fill="#00ffff"/>
<rect x="332.5" y="112.37" width="10.5" height="6.31" fill="#ff0080"/>
<rect x="354.0" y="112.37" width="2.8" height="6.31" fill="#ff0080"/>
<rect x="356.8" y="112.37" width="11.1" height="6.31" fill="#00ffff"/>
<rect x="151.5" y="118.68" width="9.6" height="6.31" fill="#ffff00"/>
<rect x="189.7" y="118.68" width="4.2" height="6.31" fill="#ffff00"/>
<rect x="197.1" y="118.68" width="6.1" height="6.31" fill="#ffff00"/>
<rect x="210.5" y="118.68" width="6.4" height="6.31" fill="#ffff00"/>
<rect x="242.2" y="118.68" width="5.6" height="6.31" fill="#ff0080"/>
<rect x="265.4" y="118.68" width="2.6" height="6.31" fill="#ff0080"/>
<rect x="267.9" y="118.68" width="2.6" height="6.31" fill="#00ffff"/>
<rect x="270.5" y="118.68" width="2.6" height="6.31" fill="#ff0080"/>
<rect x="283.1" y="118.68" width="4.7" height="6.31" fill="#1aa0f8"/>
<rect x="287.8" y="118.68" width="4.7" height="6.31" fill="#ffff00"/>
<rect x="311.9" y="118.68" width="2.3" height="6.31" fill="#ff0080"/>
<rect x="314.2" y="118.68" width="7.0" height="6.31" fill="#00ffff"/>
<rect x="332.9" y="118.68" width="2.7" height="6.31" fill="#00ffff"/>
<rect x="335.6" y="118.68" width="8.0" height="6.31" fill="#ff0080"/>
<rect x="354.5" y="118.68" width="2.8" height="6.31" fill="#00ffff"/>
<rect x="357.4" y="118.68" width="2.8" height="6.31" fill="#ff0080"/>
<rect x="360.2" y="118.68" width="2.8" height="6.31" fill="#00ffff"/>
<rect x="363.0" y="118.68" width="5.6" height="6.31" fill="#ff0080"/>
<rect x="153.2" y="124.99" width="9.7" height="6.31" fill="#ffff00"/>
<rect x="190.9" y="124.99" width="4.4" height="6.31" fill="#ffff00"/>
<rect x="198.3" y="124.99" width="6.5" height="6.31" fill="#ffff00"/>
<rect x="211.8" y="124.99" width="6.7" height="6.31" fill="#ffff00"/>
<rect x="243.5" y="124.99" width="2.9" height="6.31" fill="#00ffff"/>
<rect x="246.4" y="124.99" width="2.9" height="6.31" fill="#ff0080"/>
<rect x="266.3" y="124.99" width="2.6" height="6.31" fill="#ff0080"/>
<rect x="268.8" y="124.99" width="2.6" height="6.31" fill="#00ffff"/>
<rect x="271.4" y="124.99" width="2.6" height="6.31" fill="#ffff00"/>
<rect x="283.8" y="124.99" width="7.3" height="6.31" fill="#ffff00"/>
<rect x="291.0" y="124.99" width="2.4" height="6.31" fill="#1aa0f8"/>
<rect x="312.6" y="124.99" width="2.3" height="6.31" fill="#ff0080"/>
<rect x="314.9" y="124.99" width="2.3" height="6.31" fill="#00ffff"/>
<rect x="317.2" y="124.99" width="2.3" height="6.31" fill="#ff0080"/>
<rect x="319.5" y="124.99" width="2.3" height="6.31" fill="#00ffff"/>
<rect x="333.3" y="124.99" width="2.7" height="6.31" fill="#ffff00"/>
<rect x="336.0" y="124.99" width="2.7" height="6.31" fill="#ff0080"/>
<rect x="338.7" y="124.99" width="2.7" height="6.31" fill="#00ffff"/>
<rect x="341.4" y="124.99" width="2.7" height="6.31" fill="#ff0080"/>
<rect x="355.1" y="124.99" width="2.8" height="6.31" fill="#ffff00"/>
<rect x="357.9" y="124.99" width="2.8" height="6.31" fill="#00ffff"/>
<rect x="360.7" y="124.99" width="2.8" height="6.31" fill="#ff0080"/>
<rect x="363.6" y="124.99" width="2.8" height="6.31" fill="#ffff00"/>
<rect x="366.4" y="124.99" width="2.8" height="6.31" fill="#00ffff"/>
<rect x="155.0" y="131.30" width="9.9" height="6.31" fill="#ffff00"/>
<rect x="192.0" y="131.30" width="4.6" height="6.31" fill="#ffff00"/>
<rect x="199.5" y="131.30" width="6.9" height="6.31" fill="#ffff00"/>
<rect x="213.1" y="131.30" width="7.0" height="6.31" fill="#ffff00"/>
<rect x="244.8" y="131.30" width="2.9" height="6.31" fill="#ff0080"/>
<rect x="247.8" y="131.30" width="2.9" height="6.31" fill="#00ffff"/>
<rect x="267.2" y="131.30" width="5.1" height="6.31" fill="#1aa0f8"/>
<rect x="272.3" y="131.30" width="2.6" height="6.31" fill="#ffff00"/>
<rect x="284.4" y="131.30" width="5.0" height="6.31" fill="#ffff00"/>
<rect x="289.4" y="131.30" width="2.5" height="6.31" fill="#1aa0f8"/>
<rect x="291.9" y="131.30" width="2.5" height="6.31" fill="#ffff00"/>
<rect x="313.2" y="131.30" width="9.3" height="6.31" fill="#ff0080"/>
<rect x="333.7" y="131.30" width="2.7" height="6.31" fill="#ff0080"/>
<rect x="336.4" y="131.30" width="2.7" height="6.31" fill="#00ffff"/>
<rect x="339.1" y="131.30" width="2.7" height="6.31" fill="#ff0080"/>
<rect x="341.8" y="131.30" width="2.7" height="6.31" fill="#00ffff"/>
<rect x="355.6" y="131.30" width="4.8" height="6.31" fill="#ff0080"/>
<rect x="360.3" y="131.30" width="2.4" height="6.31" fill="#00ffff"/>
<rect x="362.7" y="131.30" width="4.8" height="6.31" fill="#ff0080"/>
<rect x="367.5" y="131.30" width="2.4" height="6.31" fill="#ffff00"/>
<rect x="156.8" y="137.61" width="10.0" height="6.31" fill="#ffff00"/>
<rect x="193.3" y="137.61" width="4.7" height="6.31" fill="#ffff00"/>
<rect x="200.8" y="137.61" width="7.3" height="6.31" fill="#ffff00"/>
<rect x="214.5" y="137.61" width="7.3" height="6.31" fill="#ffff00"/>
<rect x="246.2" y="137.61" width="6.0" height="6.31" fill="#ff0080"/>
<rect x="268.2" y="137.61" width="2.6" height="6.31" fill="#1aa0f8"/>
<rect x="270.8" y="137.61" width="5.1" height="6.31" fill="#ffff00"/>
<rect x="285.2" y="137.61" width="5.1" height="6.31" fill="#ffff00"/>
<rect x="290.3" y="137.61" width="5.1" height="6.31" fill="#1aa0f8"/>
<rect x="313.9" y="137.61" width="2.3" height="6.31" fill="#ff0080"/>
<rect x="316.2" y="137.61" width="2.3" height="6.31" fill="#00ffff"/>
<rect x="318.6" y="137.61" width="2.3" height="6.31" fill="#ff0080"/>
<rect x="320.9" y="137.61" width="2.3" height="6.31" fill="#00ffff"/>
<rect x="334.1" y="137.61" width="11.0" height="6.31" fill="#ff0080"/>
<rect x="356.1" y="137.61" width="2.4" height="6.31" fill="#ffff00"/>
<rect x="358.5" y="137.61" width="2.4" height="6.31" fill="#00ffff"/>
<rect x="360.9" y="137.61" width="2.4" height="6.31" fill="#ff0080"/>
<rect x="363.3" y="137.61" width="4.8" height="6.31" fill="#ffff00"/>
<rect x="368.2" y="137.61" width="2.4" height="6.31" fill="#ff0080"/>
<rect x="158.9" y="143.92" width="10.1" height="6.31" fill="#ffff00"/>
<rect x="195.7" y="143.92" width="4.7" height="6.31" fill="#ffff00"/>
<rect x="203.3" y="143.92" width="7.1" height="6.31" fill="#ffff00"/>
<rect x="216.6" y="143.92" width="7.2" height="6.31" fill="#ffff00"/>
<rect x="247.9" y="143.92" width="6.1" height="6.31" fill="#ff0080"/>
<rect x="269.8" y="143.92" width="7.5" height="6.31" fill="#ffff00"/>
<rect x="286.6" y="143.92" width="2.5" height="6.31" fill="#1aa0f8"/>
<rect x="289.1" y="143.92" width="7.4" height="6.31" fill="#ffff00"/>
<rect x="314.9" y="143.92" width="2.4" height="6.31" fill="#00ffff"/>
<rect x="317.3" y="143.92" width="7.2" height="6.31" fill="#ff0080"/>
<rect x="335.0" y="143.92" width="5.5" height="6.31" fill="#ff0080"/>
<rect x="340.5" y="143.92" width="2.7" height="6.31" fill="#ffff00"/>
<rect x="343.2" y="143.92" width="2.7" height="6.31" fill="#00ffff"/>
<rect x="356.7" y="143.92" width="2.4" height="6.31" fill="#ffff00"/>
<rect x="359.1" y="143.92" width="4.8" height="6.31" fill="#ff0080"/>
<rect x="363.9" y="143.92" width="2.4" height="6.31" fill="#00ffff"/>
<rect x="366.3" y="143.92" width="2.4" height="6.31" fill="#ffff00"/>
<rect x="368.7" y="143.92" width="2.4" height="6.31" fill="#00ffff"/>
<rect x="161.0" y="150.23" width="10.2" height="6.31" fill="#ffff00"/>
<rect x="198.1" y="150.23" width="4.7" height="6.31" fill="#ffff00"/>
<rect x="205.8" y="150.23" width="6.9" height="6.31" fill="#ffff00"/>
<rect x="218.7" y="150.23" width="7.1" height="6.31" fill="#ffff00"/>
<rect x="249.6" y="150.23" width="3.1" height="6.31" fill="#ffff00"/>
<rect x="252.6" y="150.23" width="3.1" height="6.31" fill="#ff0080"/>
<rect x="271.3" y="150.23" width="2.5" height="6.31" fill="#ffff00"/>
<rect x="273.8" y="150.23" width="2.5" height="6.31" fill="#1aa0f8"/>
<rect x="276.3" y="150.23" width="2.5" height="6.31" fill="#ffff00"/>
<rect x="288.0" y="150.23" width="4.8" height="6.31" fill="#ffff00"/>
<rect x="292.8" y="150.23" width="2.4" height="6.31" fill="#1aa0f8"/>
<rect x="295.2" y="150.23" width="2.4" height="6.31" fill="#ffff00"/>
<rect x="315.9" y="150.23" width="4.9" height="6.31" fill="#00ffff"/>
<rect x="320.8" y="150.23" width="4.9" height="6.31" fill="#ff0080"/>
<rect x="335.9" y="150.23" width="2.7" height="6.31" fill="#ff0080"/>
<rect x="338.6" y="150.23" width="5.4" height="6.31" fill="#00ffff"/>
<rect x="344.0" y="150.23" width="2.7" height="6.31" fill="#ff0080"/>
<rect x="357.3" y="150.23" width="2.4" height="6.31" fill="#ff0080"/>
<rect x="359.7" y="150.23" width="4.8" height="6.31" fill="#00ffff"/>
<rect x="364.5" y="150.23" width="4.8" height="6.31" fill="#ff0080"/>
<rect x="369.3" y="150.23" width="2.4" height="6.31" fill="#00ffff"/>
<rect x="163.1" y="156.53" width="10.3" height="6.31" fill="#ffff00"/>
<rect x="200.5" y="156.53" width="4.7" height="6.31" fill="#ffff00"/>
<rect x="208.3" y="156.53" width="6.7" height="6.31" fill="#ffff00"/>
<rect x="220.8" y="156.53" width="7.0" height="6.31" fill="#ffff00"/>
<rect x="251.3" y="156.53" width="6.2" height="6.31" fill="#ff0080"/>
<rect x="272.9" y="156.53" width="7.3" height="6.31" fill="#ffff00"/>
<rect x="289.4" y="156.53" width="2.4" height="6.31" fill="#ffff00"/>
<rect x="291.8" y="156.53" width="2.4" height="6.31" fill="#1aa0f8"/>
<rect x="294.1" y="156.53" width="4.7" height="6.31" fill="#ffff00"/>
<rect x="316.8" y="156.53" width="5.0" height="6.31" fill="#ff0080"/>
<rect x="321.8" y="156.53" width="2.5" height="6.31" fill="#00ffff"/>
<rect x="324.4" y="156.53" width="2.5" height="6.31" fill="#ff0080"/>
<rect x="336.8" y="156.53" width="5.4" height="6.31" fill="#00ffff"/>
<rect x="342.2" y="156.53" width="5.4" height="6.31" fill="#ff0080"/>
<rect x="357.9" y="156.53" width="2.4" height="6.31" fill="#ffff00"/>
<rect x="360.3" y="156.53" width="2.4" height="6.31" fill="#ff0080"/>
<rect x="362.7" y="156.53" width="2.4" height="6.31" fill="#00ffff"/>
<rect x="365.1" y="156.53" width="4.8" height="6.31" fill="#ff0080"/>
<rect x="369.9" y="156.53" width="2.4" height="6.31" fill="#00ffff"/>
<rect x="165.2" y="162.84" width="10.4" height="6.31" fill="#ffff00"/>
<rect x="203.0" y="162.84" width="4.7" height="6.31" fill="#ffff00"/>
<rect x="210.8" y="162.84" width="6.5" height="6.31" fill="#ffff00"/>
<rect x="223.0" y="162.84" width="6.9" height="6.31" fill="#ffff00"/>
<rect x="252.9" y="162.84" width="6.3" height="6.31" fill="#ff0080"/>
<rect x="274.5" y="162.84" width="4.8" height="6.31" fill="#ffff00"/>
<rect x="279.2" y="162.84" width="2.4" height="6.31" fill="#1aa0f8"/>
<rect x="290.8" y="162.84" width="9.2" height="6.31" fill="#1aa0f8"/>
<rect x="317.8" y="162.84" width="5.1" height="6.31" fill="#ff0080"/>
<rect x="322.9" y="162.84" width="2.6" height="6.31" fill="#ffff00"/>
<rect x="325.5" y="162.84" width="2.6" height="6.31" fill="#00ffff"/>
<rect x="337.6" y="162.84" width="2.7" height="6.31" fill="#ff0080"/>
<rect x="340.3" y="162.84" width="2.7" height="6.31" fill="#00ffff"/>
<rect x="343.0" y="162.84" width="5.4" height="6.31" fill="#ff0080"/>
<rect x="358.5" y="162.84" width="12.0" height="6.31" fill="#ff0080"/>
<rect x="370.5" y="162.84" width="2.4" height="6.31" fill="#ffff00"/>
<rect x="167.3" y="169.15" width="10.5" height="6.31" fill="#ffff00"/>
<rect x="205.4" y="169.15" width="4.6" height="6.31" fill="#ffff00"/>
<rect x="213.3" y="169.15" width="6.3" height="6.31" fill="#ffff00"/>
<rect x="225.1" y="169.15" width="6.8" height="6.31" fill="#ffff00"/>
<rect x="254.6" y="169.15" width="6.3" height="6.31" fill="#ff0080"/>
<rect x="276.0" y="169.15" width="2.3" height="6.31" fill="#1aa0f8"/>
<rect x="278.4" y="169.15" width="4.7" height="6.31" fill="#ffff00"/>
<rect x="292.2" y="169.15" width="5.9" height="6.31" fill="#1aa0f8"/>
<rect x="298.2" y="169.15" width="3.0" height="6.31" fill="#ffff00"/>
<rect x="318.8" y="169.15" width="5.3" height="6.31" fill="#ff0080"/>
<rect x="324.0" y="169.15" width="2.6" height="6.31" fill="#ffff00"/>
<rect x="326.7" y="169.15" width="2.6" height="6.31" fill="#ff0080"/>
<rect x="338.5" y="169.15" width="5.3" height="6.31" fill="#00ffff"/>
<rect x="343.9" y="169.15" width="5.3" height="6.31" fill="#ff0080"/>
<rect x="359.1" y="169.15" width="2.4" height="6.31" fill="#ffff00"/>
<rect x="361.5" y="169.15" width="2.4" height="6.31" fill="#00ffff"/>
<rect x="363.9" y="169.15" width="2.4" height="6.31" fill="#ff0080"/>
<rect x="366.3" y="169.15" width="2.4" height="6.31" fill="#00ffff"/>
<rect x="368.7" y="169.15" width="4.8" height="6.31" fill="#ff0080"/>
<rect x="169.4" y="175.46" width="10.6" height="6.31" fill="#ffff00"/>
<rect x="207.8" y="175.46" width="4.6" height="6.31" fill="#ffff00"/>
<rect x="215.8" y="175.46" width="6.1" height="6.31" fill="#ffff00"/>
<rect x="227.2" y="175.46" width="6.7" height="6.31" fill="#ffff00"/>
<rect x="256.3" y="175.46" width="6.4" height="6.31" fill="#ff0080"/>
<rect x="277.6" y="175.46" width="2.3" height="6.31" fill="#ffff00"/>
<rect x="279.9" y="175.46" width="2.3" height="6.31" fill="#1aa0f8"/>
<rect x="282.2" y="175.46" width="2.3" height="6.31" fill="#ffff00"/>
<rect x="293.6" y="175.46" width="8.7" height="6.31" fill="#1aa0f8"/>
<rect x="319.7" y="175.46" width="5.4" height="6.31" fill="#00ffff"/>
<rect x="325.1" y="175.46" width="5.4" height="6.31" fill="#ff0080"/>
<rect x="339.4" y="175.46" width="2.7" height="6.31" fill="#ff0080"/>
<rect x="342.1" y="175.46" width="2.7" height="6.31" fill="#00ffff"/>
<rect x="344.7" y="175.46" width="5.3" height="6.31" fill="#ff0080"/>
<rect x="359.7" y="175.46" width="2.4" height="6.31" fill="#00ffff"/>
<rect x="362.1" y="175.46" width="7.2" height="6.31" fill="#ff0080"/>
<rect x="369.3" y="175.46" width="2.4" height="6.31" fill="#00ffff"/>
<rect x="371.7" y="175.46" width="2.4" height="6.31" fill="#ff0080"/>
<rect x="171.5" y="181.77" width="2.7" height="6.31" fill="#1aa0f8"/>
<rect x="174.2" y="181.77" width="2.7" height="6.31" fill="#ffff00"/>
<rect x="176.9" y="181.77" width="2.7" height="6.31" fill="#1aa0f8"/>
<rect x="179.6" y="181.77" width="2.7" height="6.31" fill="#ffff00"/>
<rect x="210.2" y="181.77" width="4.6" height="6.31" fill="#ffff00"/>
<rect x="218.3" y="181.77" width="6.0" height="6.31" fill="#ffff00"/>
<rect x="229.3" y="181.77" width="6.6" height="6.31" fill="#ffff00"/>
<rect x="258.0" y="181.77" width="6.4" height="6.31" fill="#ff0080"/>
<rect x="279.2" y="181.77" width="4.5" height="6.31" fill="#1aa0f8"/>
<rect x="283.6" y="181.77" width="2.2" height="6.31" fill="#ffff00"/>
<rect x="295.0" y="181.77" width="2.8" height="6.31" fill="#ffff00"/>
<rect x="297.8" y="181.77" width="2.8" height="6.31" fill="#1aa0f8"/>
<rect x="300.6" y="181.77" width="2.8" height="6.31" fill="#ffff00"/>
<rect x="320.7" y="181.77" width="2.8" height="6.31" fill="#00ffff"/>
<rect x="323.4" y="181.77" width="2.8" height="6.31" fill="#ff0080"/>
<rect x="326.2" y="181.77" width="2.8" height="6.31" fill="#00ffff"/>
<rect x="329.0" y="181.77" width="2.8" height="6.31" fill="#ff0080"/>
<rect x="340.3" y="181.77" width="7.9" height="6.31" fill="#ff0080"/>
<rect x="348.2" y="181.77" width="2.6" height="6.31" fill="#00ffff"/>
<rect x="360.3" y="181.77" width="2.9" height="6.31" fill="#00ffff"/>
<rect x="363.2" y="181.77" width="5.7" height="6.31" fill="#ff0080"/>
<rect x="368.9" y="181.77" width="2.9" height="6.31" fill="#ffff00"/>
<rect x="371.8" y="181.77" width="2.9" height="6.31" fill="#00ffff"/>
<rect x="173.7" y="188.08" width="8.1" height="6.31" fill="#ffff00"/>
<rect x="181.8" y="188.08" width="2.7" height="6.31" fill="#1aa0f8"/>
<rect x="212.6" y="188.08" width="4.6" height="6.31" fill="#ffff00"/>
<rect x="220.8" y="188.08" width="5.8" height="6.31" fill="#ffff00"/>
<rect x="231.4" y="188.08" width="6.5" height="6.31" fill="#ffff00"/>
<rect x="259.7" y="188.08" width="4.3" height="6.31" fill="#ff0080"/>
<rect x="264.0" y="188.08" width="2.2" height="6.31" fill="#ffff00"/>
<rect x="280.7" y="188.08" width="2.2" height="6.31" fill="#ffff00"/>
<rect x="282.9" y="188.08" width="2.2" height="6.31" fill="#1aa0f8"/>
<rect x="285.1" y="188.08" width="2.2" height="6.31" fill="#ffff00"/>
<rect x="296.4" y="188.08" width="2.7" height="6.31" fill="#1aa0f8"/>
<rect x="299.2" y="188.08" width="5.4" height="6.31" fill="#ffff00"/>
<rect x="321.7" y="188.08" width="2.8" height="6.31" fill="#00ffff"/>
<rect x="324.5" y="188.08" width="2.8" height="6.31" fill="#ffff00"/>
<rect x="327.3" y="188.08" width="2.8" height="6.31" fill="#ff0080"/>
<rect x="330.1" y="188.08" width="2.8" height="6.31" fill="#00ffff"/>
<rect x="341.2" y="188.08" width="2.6" height="6.31" fill="#00ffff"/>
<rect x="343.8" y="188.08" width="7.9" height="6.31" fill="#ff0080"/>
<rect x="361.0" y="188.08" width="5.7" height="6.31" fill="#ff0080"/>
<rect x="366.7" y="188.08" width="5.7" height="6.31" fill="#00ffff"/>
<rect x="372.3" y="188.08" width="2.8" height="6.31" fill="#ff0080"/>
<rect x="175.8" y="194.39" width="11.0" height="6.31" fill="#ffff00"/>
<rect x="215.1" y="194.39" width="4.6" height="6.31" fill="#ffff00"/>
<rect x="223.3" y="194.39" width="5.6" height="6.31" fill="#ffff00"/>
<rect x="233.6" y="194.39" width="6.4" height="6.31" fill="#ffff00"/>
<rect x="261.3" y="194.39" width="6.6" height="6.31" fill="#ff0080"/>
<rect x="282.3" y="194.39" width="6.5" height="6.31" fill="#ffff00"/>
<rect x="297.9" y="194.39" width="7.9" height="6.31" fill="#ffff00"/>
<rect x="322.6" y="194.39" width="2.9" height="6.31" fill="#ff0080"/>
<rect x="325.5" y="194.39" width="2.9" height="6.31" fill="#ffff00"/>
<rect x="328.4" y="194.39" width="2.9" height="6.31" fill="#ff0080"/>
<rect x="331.3" y="194.39" width="2.9" height="6.31" fill="#00ffff"/>
<rect x="342.1" y="194.39" width="5.2" height="6.31" fill="#ff0080"/>
<rect x="347.3" y="194.39" width="2.6" height="6.31" fill="#00ffff"/>
<rect x="349.9" y="194.39" width="2.6" height="6.31" fill="#ffff00"/>
<rect x="361.6" y="194.39" width="5.7" height="6.31" fill="#ff0080"/>
<rect x="367.2" y="194.39" width="2.8" height="6.31" fill="#00ffff"/>
<rect x="370.1" y="194.39" width="5.7" height="6.31" fill="#ff0080"/>
<rect x="177.5" y="200.70" width="11.2" height="6.31" fill="#ffff00"/>
<rect x="216.6" y="200.70" width="4.7" height="6.31" fill="#ffff00"/>
<rect x="224.7" y="200.70" width="5.5" height="6.31" fill="#ffff00"/>
<rect x="235.2" y="200.70" width="6.3" height="6.31" fill="#ffff00"/>
<rect x="262.6" y="200.70" width="2.2" height="6.31" fill="#00ffff"/>
<rect x="264.8" y="200.70" width="4.4" height="6.31" fill="#ff0080"/>
<rect x="283.6" y="200.70" width="6.4" height="6.31" fill="#ffff00"/>
<rect x="299.0" y="200.70" width="7.8" height="6.31" fill="#ffff00"/>
<rect x="323.5" y="200.70" width="2.9" height="6.31" fill="#ffff00"/>
<rect x="326.4" y="200.70" width="5.7" height="6.31" fill="#ff0080"/>
<rect x="332.1" y="200.70" width="2.9" height="6.31" fill="#00ffff"/>
<rect x="342.8" y="200.70" width="2.6" height="6.31" fill="#ffff00"/>
<rect x="345.4" y="200.70" width="5.2" height="6.31" fill="#ff0080"/>
<rect x="350.6" y="200.70" width="2.6" height="6.31" fill="#ffff00"/>
<rect x="362.0" y="200.70" width="2.9" height="6.31" fill="#ffff00"/>
<rect x="364.9" y="200.70" width="2.9" height="6.31" fill="#00ffff"/>
<rect x="367.7" y="200.70" width="2.9" height="6.31" fill="#ff0080"/>
<rect x="370.6" y="200.70" width="2.9" height="6.31" fill="#ffff00"/>
<rect x="373.4" y="200.70" width="2.9" height="6.31" fill="#ff0080"/>
<rect x="178.9" y="207.01" width="11.5" height="6.31" fill="#ffff00"/>
<rect x="217.6" y="207.01" width="4.9" height="6.31" fill="#ffff00"/>
<rect x="225.5" y="207.01" width="5.5" height="6.31" fill="#ffff00"/>
<rect x="236.5" y="207.01" width="6.1" height="6.31" fill="#ffff00"/>
<rect x="263.5" y="207.01" width="6.6" height="6.31" fill="#ff0080"/>
<rect x="284.8" y="207.01" width="6.5" height="6.31" fill="#ffff00"/>
<rect x="300.0" y="207.01" width="5.3" height="6.31" fill="#1aa0f8"/>
<rect x="305.3" y="207.01" width="2.6" height="6.31" fill="#ffff00"/>
<rect x="324.4" y="207.01" width="5.6" height="6.31" fill="#00ffff"/>
<rect x="330.0" y="207.01" width="2.8" height="6.31" fill="#ff0080"/>
<rect x="332.9" y="207.01" width="2.8" height="6.31" fill="#00ffff"/>
<rect x="343.4" y="207.01" width="2.6" height="6.31" fill="#ff0080"/>
<rect x="346.0" y="207.01" width="7.8" height="6.31" fill="#00ffff"/>
<rect x="362.3" y="207.01" width="4.8" height="6.31" fill="#ff0080"/>
<rect x="367.2" y="207.01" width="2.4" height="6.31" fill="#00ffff"/>
<rect x="369.6" y="207.01" width="2.4" height="6.31" fill="#ff0080"/>
<rect x="372.0" y="207.01" width="2.4" height="6.31" fill="#00ffff"/>
<rect x="374.4" y="207.01" width="2.4" height="6.31" fill="#ff0080"/>
<rect x="180.4" y="213.32" width="11.7" height="6.31" fill="#ffff00"/>
<rect x="218.6" y="213.32" width="5.0" height="6.31" fill="#ffff00"/>
<rect x="226.2" y="213.32" width="5.5" height="6.31" fill="#ffff00"/>
<rect x="237.8" y="213.32" width="6.0" height="6.31" fill="#ffff00"/>
<rect x="264.5" y="213.32" width="6.6" height="6.31" fill="#ff0080"/>
<rect x="285.9" y="213.32" width="6.6" height="6.31" fill="#ffff00"/>
<rect x="301.1" y="213.32" width="5.3" height="6.31" fill="#ffff00"/>
<rect x="306.4" y="213.32" width="2.7" height="6.31" fill="#1aa0f8"/>
<rect x="325.3" y="213.32" width="5.5" height="6.31" fill="#00ffff"/>
<rect x="330.8" y="213.32" width="2.8" height="6.31" fill="#ff0080"/>
<rect x="333.6" y="213.32" width="2.8" height="6.31" fill="#00ffff"/>
<rect x="344.1" y="213.32" width="2.6" height="6.31" fill="#ff0080"/>
<rect x="346.7" y="213.32" width="2.6" height="6.31" fill="#ffff00"/>
<rect x="349.3" y="213.32" width="2.6" height="6.31" fill="#ff0080"/>
<rect x="351.8" y="213.32" width="2.6" height="6.31" fill="#00ffff"/>
<rect x="362.7" y="213.32" width="2.4" height="6.31" fill="#ffff00"/>
<rect x="365.1" y="213.32" width="4.9" height="6.31" fill="#00ffff"/>
<rect x="370.0" y="213.32" width="2.4" height="6.31" fill="#ff0080"/>
<rect x="372.4" y="213.32" width="2.4" height="6.31" fill="#ffff00"/>
<rect x="374.8" y="213.32" width="2.4" height="6.31" fill="#00ffff"/>
<rect x="181.8" y="219.62" width="12.0" height="6.31" fill="#ffff00"/>
<rect x="219.6" y="219.62" width="5.2" height="6.31" fill="#ffff00"/>
<rect x="226.9" y="219.62" width="5.5" height="6.31" fill="#ffff00"/>
<rect x="239.1" y="219.62" width="5.8" height="6.31" fill="#ffff00"/>
<rect x="265.4" y="219.62" width="2.2" height="6.31" fill="#00ffff"/>
<rect x="267.6" y="219.62" width="4.4" height="6.31" fill="#ff0080"/>
<rect x="287.1" y="219.62" width="2.2" height="6.31" fill="#1aa0f8"/>
<rect x="289.3" y="219.62" width="4.5" height="6.31" fill="#ffff00"/>
<rect x="302.1" y="219.62" width="8.1" height="6.31" fill="#ffff00"/>
<rect x="326.2" y="219.62" width="5.4" height="6.31" fill="#ff0080"/>
<rect x="331.6" y="219.62" width="2.7" height="6.31" fill="#ffff00"/>
<rect x="334.3" y="219.62" width="2.7" height="6.31" fill="#00ffff"/>
<rect x="344.8" y="219.62" width="2.6" height="6.31" fill="#00ffff"/>
<rect x="347.3" y="219.62" width="2.6" height="6.31" fill="#ff0080"/>
<rect x="349.9" y="219.62" width="2.6" height="6.31" fill="#00ffff"/>
<rect x="352.5" y="219.62" width="2.6" height="6.31" fill="#ff0080"/>
<rect x="363.0" y="219.62" width="4.9" height="6.31" fill="#00ffff"/>
<rect x="367.9" y="219.62" width="2.5" height="6.31" fill="#ff0080"/>
<rect x="370.4" y="219.62" width="2.5" height="6.31" fill="#ffff00"/>
<rect x="372.8" y="219.62" width="4.9" height="6.31" fill="#00ffff"/>
<rect x="183.3" y="225.93" width="4.9" height="6.31" fill="#ffff00"/>
<rect x="188.2" y="225.93" width="2.5" height="6.31" fill="#1aa0f8"/>
<rect x="190.7" y="225.93" width="4.9" height="6.31" fill="#ffff00"/>
<rect x="220.7" y="225.93" width="5.3" height="6.31" fill="#ffff00"/>
<rect x="227.6" y="225.93" width="5.5" height="6.31" fill="#ffff00"/>
<rect x="240.4" y="225.93" width="5.7" height="6.31" fill="#ffff00"/>
<rect x="266.4" y="225.93" width="4.4" height="6.31" fill="#ff0080"/>
<rect x="270.8" y="225.93" width="2.2" height="6.31" fill="#00ffff"/>
<rect x="288.2" y="225.93" width="2.3" height="6.31" fill="#ffff00"/>
<rect x="290.5" y="225.93" width="2.3" height="6.31" fill="#1aa0f8"/>
<rect x="292.7" y="225.93" width="2.3" height="6.31" fill="#ffff00"/>
<rect x="303.1" y="225.93" width="2.7" height="6.31" fill="#ffff00"/>
<rect x="305.8" y="225.93" width="2.7" height="6.31" fill="#1aa0f8"/>
<rect x="308.5" y="225.93" width="2.7" height="6.31" fill="#ffff00"/>
<rect x="327.0" y="225.93" width="2.7" height="6.31" fill="#00ffff"/>
<rect x="329.7" y="225.93" width="8.0" height="6.31" fill="#ff0080"/>
<rect x="345.4" y="225.93" width="2.6" height="6.31" fill="#ff0080"/>
<rect x="348.0" y="225.93" width="2.6" height="6.31" fill="#00ffff"/>
<rect x="350.5" y="225.93" width="5.1" height="6.31" fill="#ff0080"/>
<rect x="363.4" y="225.93" width="2.5" height="6.31" fill="#ffff00"/>
<rect x="365.8" y="225.93" width="4.9" height="6.31" fill="#ff0080"/>
<rect x="370.8" y="225.93" width="2.5" height="6.31" fill="#00ffff"/>
<rect x="373.2" y="225.93" width="4.9" height="6.31" fill="#ff0080"/>
<rect x="184.7" y="232.24" width="12.6" height="6.31" fill="#ffff00"/>
<rect x="221.7" y="232.24" width="5.5" height="6.31" fill="#ffff00"/>
<rect x="228.4" y="232.24" width="5.5" height="6.31" fill="#ffff00"/>
<rect x="241.7" y="232.24" width="5.5" height="6.31" fill="#ffff00"/>
<rect x="267.3" y="232.24" width="6.7" height="6.31" fill="#ffff00"/>
<rect x="289.4" y="232.24" width="2.3" height="6.31" fill="#ffff00"/>
<rect x="291.7" y="232.24" width="4.6" height="6.31" fill="#1aa0f8"/>
<rect x="304.1" y="232.24" width="8.2" height="6.31" fill="#ffff00"/>
<rect x="327.9" y="232.24" width="5.2" height="6.31" fill="#00ffff"/>
<rect x="333.1" y="232.24" width="2.6" height="6.31" fill="#ff0080"/>
<rect x="335.8" y="232.24" width="2.6" height="6.31" fill="#00ffff"/>
<rect x="346.1" y="232.24" width="2.6" height="6.31" fill="#ff0080"/>
<rect x="348.6" y="232.24" width="5.1" height="6.31" fill="#00ffff"/>
<rect x="353.7" y="232.24" width="2.6" height="6.31" fill="#ff0080"/>
<rect x="363.7" y="232.24" width="2.5" height="6.31" fill="#ffff00"/>
<rect x="366.2" y="232.24" width="2.5" height="6.31" fill="#ff0080"/>
<rect x="368.7" y="232.24" width="2.5" height="6.31" fill="#00ffff"/>
<rect x="371.2" y="232.24" width="7.5" height="6.31" fill="#ff0080"/>
<rect x="186.5" y="238.55" width="12.9" height="6.31" fill="#ffff00"/>
<rect x="223.1" y="238.55" width="5.6" height="6.31" fill="#ffff00"/>
<rect x="229.6" y="238.55" width="5.6" height="6.31" fill="#ffff00"/>
<rect x="243.2" y="238.55" width="5.5" height="6.31" fill="#ffff00"/>
<rect x="268.5" y="238.55" width="6.6" height="6.31" fill="#ffff00"/>
<rect x="290.5" y="238.55" width="6.9" height="6.31" fill="#1aa0f8"/>
<rect x="305.2" y="238.55" width="2.8" height="6.31" fill="#ffff00"/>
<rect x="307.9" y="238.55" width="5.5" height="6.31" fill="#1aa0f8"/>
<rect x="328.8" y="238.55" width="2.6" height="6.31" fill="#ff0080"/>
<rect x="331.4" y="238.55" width="2.6" height="6.31" fill="#00ffff"/>
<rect x="333.9" y="238.55" width="5.1" height="6.31" fill="#ff0080"/>
<rect x="346.7" y="238.55" width="10.2" height="6.31" fill="#ff0080"/>
<rect x="364.0" y="238.55" width="10.1" height="6.31" fill="#00ffff"/>
<rect x="374.1" y="238.55" width="2.5" height="6.31" fill="#ff0080"/>
<rect x="376.6" y="238.55" width="2.5" height="6.31" fill="#00ffff"/>
<rect x="189.0" y="244.86" width="13.2" height="6.31" fill="#ffff00"/>
<rect x="225.8" y="244.86" width="5.5" height="6.31" fill="#ffff00"/>
<rect x="232.2" y="244.86" width="5.8" height="6.31" fill="#ffff00"/>
<rect x="245.3" y="244.86" width="5.7" height="6.31" fill="#ffff00"/>
<rect x="270.4" y="244.86" width="6.4" height="6.31" fill="#1aa0f8"/>
<rect x="291.7" y="244.86" width="2.3" height="6.31" fill="#1aa0f8"/>
<rect x="294.0" y="244.86" width="2.3" height="6.31" fill="#ffff00"/>
<rect x="296.4" y="244.86" width="2.3" height="6.31" fill="#1aa0f8"/>
<rect x="306.2" y="244.86" width="5.6" height="6.31" fill="#ffff00"/>
<rect x="311.7" y="244.86" width="2.8" height="6.31" fill="#1aa0f8"/>
<rect x="329.7" y="244.86" width="7.5" height="6.31" fill="#ffff00"/>
<rect x="337.2" y="244.86" width="2.5" height="6.31" fill="#1aa0f8"/>
<rect x="347.4" y="244.86" width="2.5" height="6.31" fill="#ff0080"/>
<rect x="349.9" y="244.86" width="7.6" height="6.31" fill="#00ffff"/>
<rect x="364.4" y="244.86" width="2.5" height="6.31" fill="#ff0080"/>
<rect x="366.9" y="244.86" width="5.1" height="6.31" fill="#00ffff"/>
<rect x="372.0" y="244.86" width="5.1" height="6.31" fill="#ff0080"/>
<rect x="377.1" y="244.86" width="2.5" height="6.31" fill="#00ffff"/>
<rect x="191.6" y="251.17" width="5.6" height="6.31" fill="#ffff00"/>
<rect x="197.9" y="251.17" width="3.4" height="6.31" fill="#ffff00"/>
<rect x="201.9" y="251.17" width="3.1" height="6.31" fill="#ffff00"/>
<rect x="228.4" y="251.17" width="5.4" height="6.31" fill="#ffff00"/>
<rect x="234.8" y="251.17" width="6.0" height="6.31" fill="#ffff00"/>
<rect x="247.5" y="251.17" width="6.0" height="6.31" fill="#ffff00"/>
<rect x="272.4" y="251.17" width="6.2" height="6.31" fill="#ffff00"/>
<rect x="292.9" y="251.17" width="2.4" height="6.31" fill="#ffff00"/>
<rect x="295.2" y="251.17" width="2.4" height="6.31" fill="#1aa0f8"/>
<rect x="297.6" y="251.17" width="2.4" height="6.31" fill="#ffff00"/>
<rect x="307.2" y="251.17" width="5.6" height="6.31" fill="#ffff00"/>
<rect x="312.8" y="251.17" width="2.8" height="6.31" fill="#1aa0f8"/>
<rect x="330.5" y="251.17" width="4.9" height="6.31" fill="#1aa0f8"/>
<rect x="335.5" y="251.17" width="2.5" height="6.31" fill="#ffff00"/>
<rect x="337.9" y="251.17" width="2.5" height="6.31" fill="#1aa0f8"/>
<rect x="348.0" y="251.17" width="2.5" height="6.31" fill="#00ffff"/>
<rect x="350.6" y="251.17" width="2.5" height="6.31" fill="#ffff00"/>
<rect x="353.1" y="251.17" width="5.1" height="6.31" fill="#ff0080"/>
<rect x="364.7" y="251.17" width="5.1" height="6.31" fill="#ff0080"/>
<rect x="369.8" y="251.17" width="10.3" height="6.31" fill="#00ffff"/>
<rect x="194.1" y="257.48" width="5.8" height="6.31" fill="#ffff00"/>
<rect x="200.6" y="257.48" width="3.4" height="6.31" fill="#ffff00"/>
<rect x="204.7" y="257.48" width="3.2" height="6.31" fill="#ffff00"/>
<rect x="231.1" y="257.48" width="5.4" height="6.31" fill="#ffff00"/>
<rect x="237.4" y="257.48" width="6.3" height="6.31" fill="#ffff00"/>
<rect x="249.6" y="257.48" width="6.2" height="6.31" fill="#ffff00"/>
<rect x="274.3" y="257.48" width="3.0" height="6.31" fill="#ffff00"/>
<rect x="277.3" y="257.48" width="3.0" height="6.31" fill="#1aa0f8"/>
<rect x="294.0" y="257.48" width="4.8" height="6.31" fill="#ffff00"/>
<rect x="298.8" y="257.48" width="2.4" height="6.31" fill="#1aa0f8"/>
<rect x="308.2" y="257.48" width="2.8" height="6.31" fill="#ffff00"/>
<rect x="311.1" y="257.48" width="2.8" height="6.31" fill="#1aa0f8"/>
<rect x="313.9" y="257.48" width="2.8" height="6.31" fill="#ffff00"/>
<rect x="331.4" y="257.48" width="7.2" height="6.31" fill="#ffff00"/>
<rect x="338.7" y="257.48" width="2.4" height="6.31" fill="#1aa0f8"/>
<rect x="348.7" y="257.48" width="2.5" height="6.31" fill="#ff0080"/>
<rect x="351.2" y="257.48" width="5.1" height="6.31" fill="#00ffff"/>
<rect x="356.3" y="257.48" width="2.5" height="6.31" fill="#ff0080"/>
<rect x="365.0" y="257.48" width="2.6" height="6.31" fill="#00ffff"/>
<rect x="367.6" y="257.48" width="2.6" height="6.31" fill="#ff0080"/>
<rect x="370.2" y="257.48" width="2.6" height="6.31" fill="#00ffff"/>
<rect x="372.8" y="257.48" width="7.8" height="6.31" fill="#ff0080"/>
<rect x="196.7" y="263.79" width="2.9" height="6.31" fill="#ffff00"/>
<rect x="199.6" y="263.79" width="2.9" height="6.31" fill="#1aa0f8"/>
<rect x="203.3" y="263.79" width="3.5" height="6.31" fill="#ffff00"/>
<rect x="207.5" y="263.79" width="3.2" height="6.31" fill="#ffff00"/>
<rect x="233.7" y="263.79" width="5.3" height="6.31" fill="#ffff00"/>
<rect x="240.1" y="263.79" width="6.5" height="6.31" fill="#ffff00"/>
<rect x="251.8" y="263.79" width="6.5" height="6.31" fill="#ffff00"/>
<rect x="276.2" y="263.79" width="2.9" height="6.31" fill="#1aa0f8"/>
<rect x="279.1" y="263.79" width="2.9" height="6.31" fill="#ffff00"/>
<rect x="295.2" y="263.79" width="7.2" height="6.31" fill="#ffff00"/>
<rect x="309.3" y="263.79" width="8.5" height="6.31" fill="#ffff00"/>
<rect x="332.3" y="263.79" width="2.4" height="6.31" fill="#1aa0f8"/>
<rect x="334.7" y="263.79" width="2.4" height="6.31" fill="#ffff00"/>
<rect x="337.0" y="263.79" width="2.4" height="6.31" fill="#1aa0f8"/>
<rect x="339.4" y="263.79" width="2.4" height="6.31" fill="#ffff00"/>
<rect x="349.3" y="263.79" width="7.6" height="6.31" fill="#ff0080"/>
<rect x="356.9" y="263.79" width="2.5" height="6.31" fill="#00ffff"/>
<rect x="365.4" y="263.79" width="2.6" height="6.31" fill="#ff0080"/>
<rect x="368.0" y="263.79" width="2.6" height="6.31" fill="#ffff00"/>
<rect x="370.6" y="263.79" width="7.8" height="6.31" fill="#ff0080"/>
<rect x="378.4" y="263.79" width="2.6" height="6.31" fill="#ffff00"/>
<rect x="199.2" y="270.10" width="6.0" height="6.31" fill="#ffff00"/>
<rect x="205.9" y="270.10" width="3.6" height="6.31" fill="#ffff00"/>
<rect x="210.2" y="270.10" width="3.3" height="6.31" fill="#ffff00"/>
<rect x="236.4" y="270.10" width="5.2" height="6.31" fill="#ffff00"/>
<rect x="242.7" y="270.10" width="6.8" height="6.31" fill="#ffff00"/>
<rect x="253.9" y="270.10" width="6.7" height="6.31" fill="#ffff00"/>
<rect x="278.1" y="270.10" width="2.8" height="6.31" fill="#1aa0f8"/>
<rect x="280.9" y="270.10" width="2.8" height="6.31" fill="#ffff00"/>
<rect x="296.3" y="270.10" width="2.4" height="6.31" fill="#1aa0f8"/>
<rect x="298.8" y="270.10" width="4.9" height="6.31" fill="#ffff00"/>
<rect x="310.3" y="270.10" width="2.9" height="6.31" fill="#1aa0f8"/>
<rect x="313.2" y="270.10" width="5.7" height="6.31" fill="#ffff00"/>
<rect x="333.2" y="270.10" width="2.3" height="6.31" fill="#ffff00"/>
<rect x="335.5" y="270.10" width="2.3" height="6.31" fill="#1aa0f8"/>
<rect x="337.8" y="270.10" width="4.6" height="6.31" fill="#ffff00"/>
<rect x="350.0" y="270.10" width="2.5" height="6.31" fill="#ff0080"/>
<rect x="352.5" y="270.10" width="5.0" height="6.31" fill="#00ffff"/>
<rect x="357.5" y="270.10" width="2.5" height="6.31" fill="#ff0080"/>
<rect x="365.7" y="270.10" width="7.9" height="6.31" fill="#ff0080"/>
<rect x="373.6" y="270.10" width="2.6" height="6.31" fill="#00ffff"/>
<rect x="376.3" y="270.10" width="5.3" height="6.31" fill="#ff0080"/>
<rect x="201.8" y="276.41" width="3.1" height="6.31" fill="#ffff00"/>
<rect x="204.8" y="276.41" width="3.1" height="6.31" fill="#1aa0f8"/>
<rect x="208.6" y="276.41" width="3.6" height="6.31" fill="#ffff00"/>
<rect x="213.0" y="276.41" width="3.3" height="6.31" fill="#ffff00"/>
<rect x="239.0" y="276.41" width="5.1" height="6.31" fill="#ffff00"/>
<rect x="245.3" y="276.41" width="7.0" height="6.31" fill="#ffff00"/>
<rect x="256.1" y="276.41" width="7.0" height="6.31" fill="#ffff00"/>
<rect x="280.0" y="276.41" width="5.4" height="6.31" fill="#ffff00"/>
<rect x="297.5" y="276.41" width="7.4" height="6.31" fill="#ffff00"/>
<rect x="311.3" y="276.41" width="2.9" height="6.31" fill="#ffff00"/>
<rect x="314.2" y="276.41" width="2.9" height="6.31" fill="#1aa0f8"/>
<rect x="317.1" y="276.41" width="2.9" height="6.31" fill="#ffff00"/>
<rect x="334.1" y="276.41" width="9.0" height="6.31" fill="#ffff00"/>
<rect x="350.6" y="276.41" width="2.5" height="6.31" fill="#ff0080"/>
<rect x="353.1" y="276.41" width="2.5" height="6.31" fill="#00ffff"/>
<rect x="355.6" y="276.41" width="2.5" height="6.31" fill="#ff0080"/>
<rect x="358.2" y="276.41" width="2.5" height="6.31" fill="#00ffff"/>
<rect x="366.0" y="276.41" width="2.7" height="6.31" fill="#ffff00"/>
<rect x="368.7" y="276.41" width="2.7" height="6.31" fill="#ff0080"/>
<rect x="371.4" y="276.41" width="5.3" height="6.31" fill="#00ffff"/>
<rect x="376.7" y="276.41" width="5.3" height="6.31" fill="#ff0080"/>
<rect x="204.3" y="282.71" width="6.2" height="6.31" fill="#ffff00"/>
<rect x="211.3" y="282.71" width="3.7" height="6.31" fill="#ffff00"/>
<rect x="215.7" y="282.71" width="3.4" height="6.31" fill="#ffff00"/>
<rect x="241.7" y="282.71" width="5.0" height="6.31" fill="#ffff00"/>
<rect x="247.9" y="282.71" width="7.2" height="6.31" fill="#ffff00"/>
<rect x="258.2" y="282.71" width="7.2" height="6.31" fill="#ffff00"/>
<rect x="281.9" y="282.71" width="5.1" height="6.31" fill="#1aa0f8"/>
<rect x="298.6" y="282.71" width="7.4" height="6.31" fill="#ffff00"/>
<rect x="312.3" y="282.71" width="8.8" height="6.31" fill="#ffff00"/>
<rect x="334.9" y="282.71" width="2.9" height="6.31" fill="#ffff00"/>
<rect x="337.9" y="282.71" width="2.9" height="6.31" fill="#1aa0f8"/>
<rect x="340.8" y="282.71" width="2.9" height="6.31" fill="#ffff00"/>
<rect x="351.3" y="282.71" width="5.0" height="6.31" fill="#00ffff"/>
<rect x="356.3" y="282.71" width="5.0" height="6.31" fill="#ff0080"/>
<rect x="366.4" y="282.71" width="2.7" height="6.31" fill="#ffff00"/>
<rect x="369.1" y="282.71" width="2.7" height="6.31" fill="#ff0080"/>
<rect x="371.7" y="282.71" width="2.7" height="6.31" fill="#00ffff"/>
<rect x="374.4" y="282.71" width="2.7" height="6.31" fill="#ff0080"/>
<rect x="377.1" y="282.71" width="2.7" height="6.31" fill="#00ffff"/>
<rect x="379.8" y="282.71" width="2.7" height="6.31" fill="#ffff00"/>
<rect x="206.8" y="289.02" width="6.3" height="6.31" fill="#ffff00"/>
<rect x="213.9" y="289.02" width="3.7" height="6.31" fill="#ffff00"/>
<rect x="218.4" y="289.02" width="3.4" height="6.31" fill="#ffff00"/>
<rect x="243.9" y="289.02" width="5.0" height="6.31" fill="#ffff00"/>
<rect x="250.1" y="289.02" width="7.3" height="6.31" fill="#ffff00"/>
<rect x="260.0" y="289.02" width="7.4" height="6.31" fill="#ffff00"/>
<rect x="283.6" y="289.02" width="5.0" height="6.31" fill="#ffff00"/>
<rect x="299.8" y="289.02" width="2.5" height="6.31" fill="#1aa0f8"/>
<rect x="302.3" y="289.02" width="2.5" height="6.31" fill="#ffff00"/>
<rect x="304.8" y="289.02" width="2.5" height="6.31" fill="#1aa0f8"/>
<rect x="313.4" y="289.02" width="9.1" height="6.31" fill="#ffff00"/>
<rect x="335.6" y="289.02" width="8.7" height="6.31" fill="#ffff00"/>
<rect x="351.8" y="289.02" width="2.5" height="6.31" fill="#ff0080"/>
<rect x="354.3" y="289.02" width="2.5" height="6.31" fill="#00ffff"/>
<rect x="356.8" y="289.02" width="5.0" height="6.31" fill="#ff0080"/>
<rect x="366.7" y="289.02" width="2.7" height="6.31" fill="#ff0080"/>
<rect x="369.4" y="289.02" width="2.7" height="6.31" fill="#00ffff"/>
<rect x="372.1" y="289.02" width="2.7" height="6.31" fill="#ffff00"/>
<rect x="374.8" y="289.02" width="2.7" height="6.31" fill="#00ffff"/>
<rect x="377.5" y="289.02" width="2.7" height="6.31" fill="#ff0080"/>
<rect x="380.2" y="289.02" width="2.7" height="6.31" fill="#00ffff"/>
<rect x="209.3" y="295.33" width="6.3" height="6.31" fill="#ffff00"/>
<rect x="216.3" y="295.33" width="3.7" height="6.31" fill="#ffff00"/>
<rect x="220.8" y="295.33" width="3.4" height="6.31" fill="#ffff00"/>
<rect x="245.4" y="295.33" width="5.0" height="6.31" fill="#ffff00"/>
<rect x="251.6" y="295.33" width="7.1" height="6.31" fill="#ffff00"/>
<rect x="261.2" y="295.33" width="7.3" height="6.31" fill="#ffff00"/>
<rect x="284.9" y="295.33" width="5.2" height="6.31" fill="#1aa0f8"/>
<rect x="300.8" y="295.33" width="7.8" height="6.31" fill="#ffff00"/>
<rect x="314.4" y="295.33" width="2.4" height="6.31" fill="#ffff00"/>
<rect x="316.8" y="295.33" width="2.4" height="6.31" fill="#1aa0f8"/>
<rect x="319.3" y="295.33" width="2.4" height="6.31" fill="#ffff00"/>
<rect x="321.7" y="295.33" width="2.4" height="6.31" fill="#1aa0f8"/>
<rect x="336.0" y="295.33" width="8.7" height="6.31" fill="#ffff00"/>
<rect x="352.2" y="295.33" width="7.5" height="6.31" fill="#ff0080"/>
<rect x="359.7" y="295.33" width="2.5" height="6.31" fill="#00ffff"/>
<rect x="367.1" y="295.33" width="8.0" height="6.31" fill="#ff0080"/>
<rect x="375.1" y="295.33" width="2.7" height="6.31" fill="#00ffff"/>
<rect x="377.7" y="295.33" width="2.7" height="6.31" fill="#ff0080"/>
<rect x="380.4" y="295.33" width="2.7" height="6.31" fill="#00ffff"/>
<rect x="211.7" y="301.64" width="6.3" height="6.31" fill="#ffff00"/>
<rect x="218.7" y="301.64" width="3.7" height="6.31" fill="#ffff00"/>
<rect x="223.2" y="301.64" width="3.4" height="6.31" fill="#ffff00"/>
<rect x="247.0" y="301.64" width="5.0" height="6.31" fill="#ffff00"/>
<rect x="253.1" y="301.64" width="6.9" height="6.31" fill="#ffff00"/>
<rect x="262.3" y="301.64" width="7.3" height="6.31" fill="#ffff00"/>
<rect x="286.2" y="301.64" width="2.7" height="6.31" fill="#ffff00"/>
<rect x="288.9" y="301.64" width="2.7" height="6.31" fill="#1aa0f8"/>
<rect x="301.8" y="301.64" width="8.1" height="6.31" fill="#ffff00"/>
<rect x="315.4" y="301.64" width="5.3" height="6.31" fill="#ffff00"/>
<rect x="320.7" y="301.64" width="2.6" height="6.31" fill="#1aa0f8"/>
<rect x="323.3" y="301.64" width="2.6" height="6.31" fill="#ffff00"/>
<rect x="336.4" y="301.64" width="2.9" height="6.31" fill="#ffff00"/>
<rect x="339.3" y="301.64" width="5.8" height="6.31" fill="#1aa0f8"/>
<rect x="352.6" y="301.64" width="2.5" height="6.31" fill="#ff0080"/>
<rect x="355.1" y="301.64" width="7.5" height="6.31" fill="#00ffff"/>
<rect x="367.5" y="301.64" width="2.6" height="6.31" fill="#00ffff"/>
<rect x="370.1" y="301.64" width="2.6" height="6.31" fill="#ffff00"/>
<rect x="372.7" y="301.64" width="5.3" height="6.31" fill="#00ffff"/>
<rect x="378.0" y="301.64" width="2.6" height="6.31" fill="#ff0080"/>
<rect x="380.6" y="301.64" width="2.6" height="6.31" fill="#00ffff"/>
<rect x="214.2" y="307.95" width="6.3" height="6.31" fill="#ffff00"/>
<rect x="221.2" y="307.95" width="3.7" height="6.31" fill="#ffff00"/>
<rect x="225.6" y="307.95" width="3.4" height="6.31" fill="#ffff00"/>
<rect x="248.5" y="307.95" width="5.0" height="6.31" fill="#ffff00"/>
<rect x="254.6" y="307.95" width="6.7" height="6.31" fill="#ffff00"/>
<rect x="263.5" y="307.95" width="7.2" height="6.31" fill="#ffff00"/>
<rect x="287.5" y="307.95" width="5.5" height="6.31" fill="#ffff00"/>
<rect x="302.9" y="307.95" width="2.8" height="6.31" fill="#ffff00"/>
<rect x="305.6" y="307.95" width="2.8" height="6.31" fill="#1aa0f8"/>
<rect x="308.4" y="307.95" width="2.8" height="6.31" fill="#ffff00"/>
<rect x="316.4" y="307.95" width="2.8" height="6.31" fill="#1aa0f8"/>
<rect x="319.2" y="307.95" width="8.5" height="6.31" fill="#ffff00"/>
<rect x="336.8" y="307.95" width="2.9" height="6.31" fill="#1aa0f8"/>
<rect x="339.7" y="307.95" width="5.8" height="6.31" fill="#ffff00"/>
<rect x="353.0" y="307.95" width="2.5" height="6.31" fill="#ffff00"/>
<rect x="355.5" y="307.95" width="2.5" height="6.31" fill="#ff0080"/>
<rect x="358.0" y="307.95" width="5.0" height="6.31" fill="#00ffff"/>
<rect x="367.9" y="307.95" width="2.6" height="6.31" fill="#ff0080"/>
<rect x="370.5" y="307.95" width="5.2" height="6.31" fill="#00ffff"/>
<rect x="375.6" y="307.95" width="2.6" height="6.31" fill="#ffff00"/>
<rect x="378.2" y="307.95" width="2.6" height="6.31" fill="#ff0080"/>
<rect x="380.8" y="307.95" width="2.6" height="6.31" fill="#ffff00"/>
<rect x="216.6" y="314.26" width="6.2" height="6.31" fill="#ffff00"/>
<rect x="223.6" y="314.26" width="3.7" height="6.31" fill="#ffff00"/>
<rect x="228.1" y="314.26" width="3.4" height="6.31" fill="#ffff00"/>
<rect x="250.0" y="314.26" width="5.0" height="6.31" fill="#ffff00"/>
<rect x="256.0" y="314.26" width="6.4" height="6.31" fill="#ffff00"/>
<rect x="264.7" y="314.26" width="7.1" height="6.31" fill="#ffff00"/>
<rect x="288.8" y="314.26" width="2.8" height="6.31" fill="#1aa0f8"/>
<rect x="291.6" y="314.26" width="2.8" height="6.31" fill="#ffff00"/>
<rect x="303.9" y="314.26" width="8.5" height="6.31" fill="#ffff00"/>
<rect x="317.5" y="314.26" width="2.4" height="6.31" fill="#1aa0f8"/>
<rect x="319.9" y="314.26" width="2.4" height="6.31" fill="#ffff00"/>
<rect x="322.3" y="314.26" width="2.4" height="6.31" fill="#1aa0f8"/>
<rect x="324.7" y="314.26" width="4.8" height="6.31" fill="#ffff00"/>
<rect x="337.2" y="314.26" width="5.8" height="6.31" fill="#ffff00"/>
<rect x="343.0" y="314.26" width="2.9" height="6.31" fill="#1aa0f8"/>
<rect x="353.4" y="314.26" width="5.0" height="6.31" fill="#00ffff"/>
<rect x="358.4" y="314.26" width="5.0" height="6.31" fill="#ff0080"/>
<rect x="368.2" y="314.26" width="2.6" height="6.31" fill="#ff0080"/>
<rect x="370.8" y="314.26" width="7.7" height="6.31" fill="#00ffff"/>
<rect x="378.5" y="314.26" width="2.6" height="6.31" fill="#ff0080"/>
<rect x="381.1" y="314.26" width="2.6" height="6.31" fill="#00ffff"/>
<rect x="219.1" y="320.57" width="6.2" height="6.31" fill="#ffff00"/>
<rect x="226.0" y="320.57" width="3.7" height="6.31" fill="#ffff00"/>
<rect x="230.5" y="320.57" width="3.4" height="6.31" fill="#ffff00"/>
<rect x="251.5" y="320.57" width="5.0" height="6.31" fill="#ffff00"/>
<rect x="257.5" y="320.57" width="6.2" height="6.31" fill="#ffff00"/>
<rect x="265.8" y="320.57" width="7.1" height="6.31" fill="#ffff00"/>
<rect x="290.0" y="320.57" width="5.8" height="6.31" fill="#ffff00"/>
<rect x="305.0" y="320.57" width="8.8" height="6.31" fill="#ffff00"/>
<rect x="318.5" y="320.57" width="10.2" height="6.31" fill="#ffff00"/>
<rect x="328.7" y="320.57" width="2.6" height="6.31" fill="#1aa0f8"/>
<rect x="337.6" y="320.57" width="8.7" height="6.31" fill="#ffff00"/>
<rect x="353.8" y="320.57" width="7.4" height="6.31" fill="#00ffff"/>
<rect x="361.2" y="320.57" width="2.5" height="6.31" fill="#ff0080"/>
<rect x="368.6" y="320.57" width="7.6" height="6.31" fill="#00ffff"/>
<rect x="376.2" y="320.57" width="7.6" height="6.31" fill="#ff0080"/>
<rect x="221.5" y="326.88" width="6.2" height="6.31" fill="#ffff00"/>
<rect x="228.5" y="326.88" width="3.7" height="6.31" fill="#ffff00"/>
<rect x="232.9" y="326.88" width="3.4" height="6.31" fill="#ffff00"/>
<rect x="253.0" y="326.88" width="5.0" height="6.31" fill="#ffff00"/>
<rect x="259.0" y="326.88" width="6.0" height="6.31" fill="#ffff00"/>
<rect x="267.0" y="326.88" width="7.0" height="6.31" fill="#ffff00"/>
<rect x="291.3" y="326.88" width="5.9" height="6.31" fill="#ffff00"/>
<rect x="306.0" y="326.88" width="6.0" height="6.31" fill="#ffff00"/>
<rect x="312.0" y="326.88" width="3.0" height="6.31" fill="#1aa0f8"/>
<rect x="319.5" y="326.88" width="2.7" height="6.31" fill="#1aa0f8"/>
<rect x="322.2" y="326.88" width="10.8" height="6.31" fill="#ffff00"/>
<rect x="338.0" y="326.88" width="8.7" height="6.31" fill="#ffff00"/>
<rect x="354.2" y="326.88" width="7.4" height="6.31" fill="#ffff00"/>
<rect x="361.6" y="326.88" width="2.5" height="6.31" fill="#1aa0f8"/>
<rect x="369.0" y="326.88" width="2.5" height="6.31" fill="#ff0080"/>
<rect x="371.5" y="326.88" width="2.5" height="6.31" fill="#00ffff"/>
<rect x="374.0" y="326.88" width="5.0" height="6.31" fill="#ff0080"/>
<rect x="379.0" y="326.88" width="2.5" height="6.31" fill="#00ffff"/>
<rect x="381.5" y="326.88" width="2.5" height="6.31" fill="#ff0080"/>
<rect x="223.6" y="333.19" width="6.4" height="6.31" fill="#ffff00"/>
<rect x="230.7" y="333.19" width="3.8" height="6.31" fill="#ffff00"/>
<rect x="235.2" y="333.19" width="3.5" height="6.31" fill="#ffff00"/>
<rect x="255.1" y="333.19" width="5.1" height="6.31" fill="#ffff00"/>
<rect x="261.2" y="333.19" width="6.0" height="6.31" fill="#ffff00"/>
<rect x="269.2" y="333.19" width="7.0" height="6.31" fill="#ffff00"/>
<rect x="292.5" y="333.19" width="3.0" height="6.31" fill="#1aa0f8"/>
<rect x="295.5" y="333.19" width="3.0" height="6.31" fill="#ffff00"/>
<rect x="307.1" y="333.19" width="6.0" height="6.31" fill="#1aa0f8"/>
<rect x="313.1" y="333.19" width="3.0" height="6.31" fill="#ffff00"/>
<rect x="320.6" y="333.19" width="5.2" height="6.31" fill="#ffff00"/>
<rect x="325.8" y="333.19" width="2.6" height="6.31" fill="#1aa0f8"/>
<rect x="328.4" y="333.19" width="5.2" height="6.31" fill="#ffff00"/>
<rect x="338.7" y="333.19" width="2.9" height="6.31" fill="#1aa0f8"/>
<rect x="341.6" y="333.19" width="2.9" height="6.31" fill="#ffff00"/>
<rect x="344.5" y="333.19" width="2.9" height="6.31" fill="#1aa0f8"/>
<rect x="354.7" y="333.19" width="10.1" height="6.31" fill="#ffff00"/>
<rect x="369.6" y="333.19" width="2.5" height="6.31" fill="#ff0080"/>
<rect x="372.1" y="333.19" width="2.5" height="6.31" fill="#00ffff"/>
<rect x="374.6" y="333.19" width="2.5" height="6.31" fill="#ff0080"/>
<rect x="377.0" y="333.19" width="2.5" height="6.31" fill="#00ffff"/>
<rect x="379.5" y="333.19" width="2.5" height="6.31" fill="#ff0080"/>
<rect x="382.0" y="333.19" width="2.5" height="6.31" fill="#00ffff"/>
<rect x="225.7" y="339.50" width="6.5" height="6.31" fill="#ffff00"/>
<rect x="232.9" y="339.50" width="3.9" height="6.31" fill="#ffff00"/>
<rect x="237.6" y="339.50" width="3.6" height="6.31" fill="#ffff00"/>
<rect x="257.2" y="339.50" width="5.1" height="6.31" fill="#ffff00"/>
<rect x="263.3" y="339.50" width="6.0" height="6.31" fill="#ffff00"/>
<rect x="271.3" y="339.50" width="7.1" height="6.31" fill="#ffff00"/>
<rect x="293.8" y="339.50" width="3.0" height="6.31" fill="#1aa0f8"/>
<rect x="296.7" y="339.50" width="3.0" height="6.31" fill="#ffff00"/>
<rect x="308.2" y="339.50" width="3.0" height="6.31" fill="#ffff00"/>
<rect x="311.2" y="339.50" width="6.1" height="6.31" fill="#1aa0f8"/>
<rect x="321.6" y="339.50" width="7.6" height="6.31" fill="#ffff00"/>
<rect x="329.2" y="339.50" width="2.5" height="6.31" fill="#1aa0f8"/>
<rect x="331.7" y="339.50" width="2.5" height="6.31" fill="#ffff00"/>
<rect x="339.3" y="339.50" width="5.9" height="6.31" fill="#ffff00"/>
<rect x="345.3" y="339.50" width="3.0" height="6.31" fill="#1aa0f8"/>
<rect x="355.2" y="339.50" width="2.6" height="6.31" fill="#1aa0f8"/>
<rect x="357.8" y="339.50" width="7.8" height="6.31" fill="#ffff00"/>
<rect x="370.2" y="339.50" width="2.5" height="6.31" fill="#ff0080"/>
<rect x="372.7" y="339.50" width="4.9" height="6.31" fill="#00ffff"/>
<rect x="377.6" y="339.50" width="2.5" height="6.31" fill="#ffff00"/>
<rect x="380.1" y="339.50" width="2.5" height="6.31" fill="#ff0080"/>
<rect x="382.5" y="339.50" width="2.5" height="6.31" fill="#00ffff"/>
<rect x="227.8" y="345.80" width="6.6" height="6.31" fill="#ffff00"/>
<rect x="235.2" y="345.80" width="3.9" height="6.31" fill="#ffff00"/>
<rect x="239.9" y="345.80" width="3.6" height="6.31" fill="#ffff00"/>
<rect x="259.3" y="345.80" width="5.2" height="6.31" fill="#ffff00"/>
<rect x="265.5" y="345.80" width="6.0" height="6.31" fill="#ffff00"/>
<rect x="273.5" y="345.80" width="7.1" height="6.31" fill="#ffff00"/>
<rect x="295.0" y="345.80" width="5.9" height="6.31" fill="#1aa0f8"/>
<rect x="309.3" y="345.80" width="9.1" height="6.31" fill="#ffff00"/>
<rect x="322.7" y="345.80" width="4.9" height="6.31" fill="#ffff00"/>
<rect x="327.6" y="345.80" width="4.9" height="6.31" fill="#1aa0f8"/>
<rect x="332.4" y="345.80" width="2.4" height="6.31" fill="#ffff00"/>
<rect x="340.0" y="345.80" width="3.0" height="6.31" fill="#ffff00"/>
<rect x="343.0" y="345.80" width="6.0" height="6.31" fill="#1aa0f8"/>
<rect x="355.7" y="345.80" width="5.3" height="6.31" fill="#ffff00"/>
<rect x="360.9" y="345.80" width="5.3" height="6.31" fill="#1aa0f8"/>
<rect x="370.8" y="345.80" width="7.4" height="6.31" fill="#00ffff"/>
<rect x="378.1" y="345.80" width="7.4" height="6.31" fill="#ff0080"/>
<rect x="229.8" y="352.11" width="6.8" height="6.31" fill="#ffff00"/>
<rect x="237.4" y="352.11" width="4.0" height="6.31" fill="#ffff00"/>
<rect x="242.2" y="352.11" width="3.7" height="6.31" fill="#ffff00"/>
<rect x="261.4" y="352.11" width="5.2" height="6.31" fill="#ffff00"/>
<rect x="267.7" y="352.11" width="6.0" height="6.31" fill="#ffff00"/>
<rect x="275.7" y="352.11" width="7.1" height="6.31" fill="#ffff00"/>
<rect x="296.3" y="352.11" width="5.9" height="6.31" fill="#ffff00"/>
<rect x="310.4" y="352.11" width="6.9" height="6.31" fill="#ffff00"/>
<rect x="317.3" y="352.11" width="2.3" height="6.31" fill="#1aa0f8"/>
<rect x="323.7" y="352.11" width="2.4" height="6.31" fill="#1aa0f8"/>
<rect x="326.1" y="352.11" width="7.1" height="6.31" fill="#ffff00"/>
<rect x="333.2" y="352.11" width="2.4" height="6.31" fill="#1aa0f8"/>
<rect x="340.7" y="352.11" width="2.3" height="6.31" fill="#ffff00"/>
<rect x="343.0" y="352.11" width="6.9" height="6.31" fill="#1aa0f8"/>
<rect x="356.2" y="352.11" width="2.7" height="6.31" fill="#1aa0f8"/>
<rect x="358.8" y="352.11" width="8.1" height="6.31" fill="#ffff00"/>
<rect x="371.4" y="352.11" width="7.3" height="6.31" fill="#ff0080"/>
<rect x="378.7" y="352.11" width="2.4" height="6.31" fill="#00ffff"/>
<rect x="381.1" y="352.11" width="2.4" height="6.31" fill="#ffff00"/>
<rect x="383.6" y="352.11" width="2.4" height="6.31" fill="#00ffff"/>
<rect x="231.9" y="358.42" width="6.9" height="6.31" fill="#ffff00"/>
<rect x="239.6" y="358.42" width="4.1" height="6.31" fill="#ffff00"/>
<rect x="244.6" y="358.42" width="3.8" height="6.31" fill="#ffff00"/>
<rect x="263.6" y="358.42" width="5.3" height="6.31" fill="#ffff00"/>
<rect x="269.8" y="358.42" width="6.0" height="6.31" fill="#ffff00"/>
<rect x="277.8" y="358.42" width="7.1" height="6.31" fill="#ffff00"/>
<rect x="297.5" y="358.42" width="5.9" height="6.31" fill="#ffff00"/>
<rect x="311.5" y="358.42" width="4.6" height="6.31" fill="#1aa0f8"/>
<rect x="316.1" y="358.42" width="4.6" height="6.31" fill="#ffff00"/>
<rect x="324.8" y="358.42" width="5.7" height="6.31" fill="#ffff00"/>
<rect x="330.5" y="358.42" width="5.7" height="6.31" fill="#1aa0f8"/>
<rect x="341.4" y="358.42" width="2.3" height="6.31" fill="#1aa0f8"/>
<rect x="343.7" y="358.42" width="2.3" height="6.31" fill="#ffff00"/>
<rect x="346.0" y="358.42" width="4.6" height="6.31" fill="#1aa0f8"/>
<rect x="356.6" y="358.42" width="2.7" height="6.31" fill="#ffff00"/>
<rect x="359.4" y="358.42" width="2.7" height="6.31" fill="#1aa0f8"/>
<rect x="362.1" y="358.42" width="5.5" height="6.31" fill="#ffff00"/>
<rect x="371.9" y="358.42" width="2.4" height="6.31" fill="#00ffff"/>
<rect x="374.4" y="358.42" width="2.4" height="6.31" fill="#ffff00"/>
<rect x="376.8" y="358.42" width="2.4" height="6.31" fill="#00ffff"/>
<rect x="379.2" y="358.42" width="2.4" height="6.31" fill="#ff0080"/>
<rect x="381.7" y="358.42" width="4.9" height="6.31" fill="#00ffff"/>
<rect x="234.0" y="364.73" width="7.0" height="6.31" fill="#ffff00"/>
<rect x="241.9" y="364.73" width="4.2" height="6.31" fill="#ffff00"/>
<rect x="246.9" y="364.73" width="3.9" height="6.31" fill="#ffff00"/>
<rect x="265.7" y="364.73" width="5.3" height="6.31" fill="#ffff00"/>
<rect x="272.0" y="364.73" width="6.0" height="6.31" fill="#ffff00"/>
<rect x="280.0" y="364.73" width="7.2" height="6.31" fill="#ffff00"/>
<rect x="298.7" y="364.73" width="3.0" height="6.31" fill="#1aa0f8"/>
<rect x="301.7" y="364.73" width="3.0" height="6.31" fill="#ffff00"/>
<rect x="312.6" y="364.73" width="6.9" height="6.31" fill="#1aa0f8"/>
<rect x="319.5" y="364.73" width="2.3" height="6.31" fill="#ffff00"/>
<rect x="325.8" y="364.73" width="5.5" height="6.31" fill="#ffff00"/>
<rect x="331.3" y="364.73" width="5.5" height="6.31" fill="#1aa0f8"/>
<rect x="342.0" y="364.73" width="7.0" height="6.31" fill="#ffff00"/>
<rect x="349.1" y="364.73" width="2.3" height="6.31" fill="#1aa0f8"/>
<rect x="357.1" y="364.73" width="11.2" height="6.31" fill="#ffff00"/>
<rect x="372.5" y="364.73" width="2.4" height="6.31" fill="#ffff00"/>
<rect x="375.0" y="364.73" width="2.4" height="6.31" fill="#1aa0f8"/>
<rect x="377.4" y="364.73" width="4.8" height="6.31" fill="#ffff00"/>
<rect x="382.2" y="364.73" width="2.4" height="6.31" fill="#1aa0f8"/>
<rect x="384.6" y="364.73" width="2.4" height="6.31" fill="#ffff00"/>
<rect x="236.1" y="371.04" width="7.2" height="6.31" fill="#ffff00"/>
<rect x="244.1" y="371.04" width="4.3" height="6.31" fill="#ffff00"/>
<rect x="249.2" y="371.04" width="3.9" height="6.31" fill="#ffff00"/>
<rect x="267.8" y="371.04" width="5.4" height="6.31" fill="#ffff00"/>
<rect x="274.2" y="371.04" width="6.0" height="6.31" fill="#ffff00"/>
<rect x="282.2" y="371.04" width="7.2" height="6.31" fill="#ffff00"/>
<rect x="300.0" y="371.04" width="6.0" height="6.31" fill="#ffff00"/>
<rect x="313.7" y="371.04" width="9.3" height="6.31" fill="#ffff00"/>
<rect x="326.9" y="371.04" width="7.9" height="6.31" fill="#1aa0f8"/>
<rect x="334.8" y="371.04" width="2.6" height="6.31" fill="#ffff00"/>
<rect x="342.7" y="371.04" width="2.4" height="6.31" fill="#ffff00"/>
<rect x="345.1" y="371.04" width="2.4" height="6.31" fill="#1aa0f8"/>
<rect x="347.4" y="371.04" width="2.4" height="6.31" fill="#ffff00"/>
<rect x="349.8" y="371.04" width="2.4" height="6.31" fill="#1aa0f8"/>
<rect x="357.6" y="371.04" width="2.9" height="6.31" fill="#ffff00"/>
<rect x="360.5" y="371.04" width="2.9" height="6.31" fill="#1aa0f8"/>
<rect x="363.3" y="371.04" width="2.9" height="6.31" fill="#ffff00"/>
<rect x="366.2" y="371.04" width="2.9" height="6.31" fill="#1aa0f8"/>
<rect x="373.1" y="371.04" width="7.2" height="6.31" fill="#ffff00"/>
<rect x="380.3" y="371.04" width="2.4" height="6.31" fill="#1aa0f8"/>
<rect x="382.7" y="371.04" width="4.8" height="6.31" fill="#ffff00"/>
<rect x="238.2" y="377.35" width="7.3" height="6.31" fill="#ffff00"/>
<rect x="246.3" y="377.35" width="4.3" height="6.31" fill="#ffff00"/>
<rect x="251.6" y="377.35" width="4.0" height="6.31" fill="#ffff00"/>
<rect x="269.9" y="377.35" width="5.4" height="6.31" fill="#ffff00"/>
<rect x="276.3" y="377.35" width="6.0" height="6.31" fill="#ffff00"/>
<rect x="284.3" y="377.35" width="7.2" height="6.31" fill="#ffff00"/>
<rect x="301.2" y="377.35" width="6.0" height="6.31" fill="#ffff00"/>
<rect x="314.8" y="377.35" width="4.7" height="6.31" fill="#1aa0f8"/>
<rect x="319.4" y="377.35" width="4.7" height="6.31" fill="#ffff00"/>
<rect x="327.9" y="377.35" width="2.5" height="6.31" fill="#ffff00"/>
<rect x="330.5" y="377.35" width="2.5" height="6.31" fill="#1aa0f8"/>
<rect x="333.0" y="377.35" width="2.5" height="6.31" fill="#ffff00"/>
<rect x="335.5" y="377.35" width="2.5" height="6.31" fill="#1aa0f8"/>
<rect x="343.4" y="377.35" width="2.4" height="6.31" fill="#ffff00"/>
<rect x="345.8" y="377.35" width="2.4" height="6.31" fill="#1aa0f8"/>
<rect x="348.2" y="377.35" width="2.4" height="6.31" fill="#ffff00"/>
<rect x="350.6" y="377.35" width="2.4" height="6.31" fill="#1aa0f8"/>
<rect x="358.1" y="377.35" width="2.9" height="6.31" fill="#1aa0f8"/>
<rect x="361.0" y="377.35" width="5.8" height="6.31" fill="#ffff00"/>
<rect x="366.8" y="377.35" width="2.9" height="6.31" fill="#1aa0f8"/>
<rect x="373.7" y="377.35" width="2.4" height="6.31" fill="#ffff00"/>
<rect x="376.1" y="377.35" width="2.4" height="6.31" fill="#1aa0f8"/>
<rect x="378.5" y="377.35" width="4.8" height="6.31" fill="#ffff00"/>
<rect x="383.3" y="377.35" width="2.4" height="6.31" fill="#1aa0f8"/>
<rect x="385.7" y="377.35" width="2.4" height="6.31" fill="#ffff00"/>
<rect x="240.2" y="383.66" width="7.4" height="6.31" fill="#ffff00"/>
<rect x="248.6" y="383.66" width="4.4" height="6.31" fill="#ffff00"/>
<rect x="253.9" y="383.66" width="4.1" height="6.31" fill="#ffff00"/>
<rect x="272.0" y="383.66" width="5.5" height="6.31" fill="#ffff00"/>
<rect x="278.5" y="383.66" width="6.0" height="6.31" fill="#ffff00"/>
<rect x="286.5" y="383.66" width="7.2" height="6.31" fill="#ffff00"/>
<rect x="302.4" y="383.66" width="3.0" height="6.31" fill="#1aa0f8"/>
<rect x="305.4" y="383.66" width="3.0" height="6.31" fill="#ffff00"/>
<rect x="315.8" y="383.66" width="4.7" height="6.31" fill="#1aa0f8"/>
<rect x="320.5" y="383.66" width="4.7" height="6.31" fill="#ffff00"/>
<rect x="329.0" y="383.66" width="7.3" height="6.31" fill="#ffff00"/>
<rect x="336.3" y="383.66" width="2.4" height="6.31" fill="#1aa0f8"/>
<rect x="344.1" y="383.66" width="9.7" height="6.31" fill="#ffff00"/>
<rect x="358.6" y="383.66" width="2.4" height="6.31" fill="#1aa0f8"/>
<rect x="361.0" y="383.66" width="9.5" height="6.31" fill="#ffff00"/>
<rect x="374.3" y="383.66" width="11.4" height="6.31" fill="#ffff00"/>
<rect x="385.7" y="383.66" width="2.8" height="6.31" fill="#1aa0f8"/>
<rect x="242.3" y="389.97" width="7.6" height="6.31" fill="#ffff00"/>
<rect x="250.8" y="389.97" width="4.5" height="6.31" fill="#ffff00"/>
<rect x="256.2" y="389.97" width="4.2" height="6.31" fill="#ffff00"/>
<rect x="274.1" y="389.97" width="5.5" height="6.31" fill="#ffff00"/>
<rect x="280.6" y="389.97" width="6.0" height="6.31" fill="#ffff00"/>
<rect x="288.6" y="389.97" width="7.3" height="6.31" fill="#ffff00"/>
<rect x="303.7" y="389.97" width="3.0" height="6.31" fill="#ffff00"/>
<rect x="306.7" y="389.97" width="3.0" height="6.31" fill="#1aa0f8"/>
<rect x="316.9" y="389.97" width="2.4" height="6.31" fill="#ffff00"/>
<rect x="319.3" y="389.97" width="4.7" height="6.31" fill="#1aa0f8"/>
<rect x="324.0" y="389.97" width="2.4" height="6.31" fill="#ffff00"/>
<rect x="330.0" y="389.97" width="2.3" height="6.31" fill="#ffff00"/>
<rect x="332.3" y="389.97" width="2.3" height="6.31" fill="#1aa0f8"/>
<rect x="334.7" y="389.97" width="4.6" height="6.31" fill="#ffff00"/>
<rect x="344.7" y="389.97" width="4.9" height="6.31" fill="#1aa0f8"/>
<rect x="349.6" y="389.97" width="4.9" height="6.31" fill="#ffff00"/>
<rect x="359.1" y="389.97" width="4.8" height="6.31" fill="#ffff00"/>
<rect x="363.9" y="389.97" width="7.3" height="6.31" fill="#1aa0f8"/>
<rect x="374.9" y="389.97" width="5.7" height="6.31" fill="#1aa0f8"/>
<rect x="380.6" y="389.97" width="5.7" height="6.31" fill="#ffff00"/>
<rect x="386.2" y="389.97" width="2.8" height="6.31" fill="#1aa0f8"/>
<rect x="244.4" y="396.28" width="7.7" height="6.31" fill="#ffff00"/>
<rect x="253.0" y="396.28" width="4.6" height="6.31" fill="#ffff00"/>
<rect x="258.6" y="396.28" width="4.2" height="6.31" fill="#ffff00"/>
<rect x="276.2" y="396.28" width="5.6" height="6.31" fill="#ffff00"/>
<rect x="282.8" y="396.28" width="6.0" height="6.31" fill="#ffff00"/>
<rect x="290.8" y="396.28" width="7.3" height="6.31" fill="#ffff00"/>
<rect x="304.9" y="396.28" width="3.0" height="6.31" fill="#ffff00"/>
<rect x="307.9" y="396.28" width="3.0" height="6.31" fill="#1aa0f8"/>
<rect x="318.0" y="396.28" width="4.7" height="6.31" fill="#1aa0f8"/>
<rect x="322.8" y="396.28" width="4.7" height="6.31" fill="#ffff00"/>
<rect x="331.1" y="396.28" width="8.9" height="6.31" fill="#ffff00"/>
<rect x="345.4" y="396.28" width="2.5" height="6.31" fill="#ffff00"/>
<rect x="347.9" y="396.28" width="2.5" height="6.31" fill="#1aa0f8"/>
<rect x="350.4" y="396.28" width="5.0" height="6.31" fill="#ffff00"/>
<rect x="359.6" y="396.28" width="4.9" height="6.31" fill="#ffff00"/>
<rect x="364.5" y="396.28" width="2.5" height="6.31" fill="#1aa0f8"/>
<rect x="367.0" y="396.28" width="4.9" height="6.31" fill="#ffff00"/>
<rect x="375.5" y="396.28" width="8.4" height="6.31" fill="#ffff00"/>
<rect x="383.9" y="396.28" width="2.8" height="6.31" fill="#1aa0f8"/>
<rect x="386.7" y="396.28" width="2.8" height="6.31" fill="#ffff00"/>
<rect x="246.6" y="402.59" width="7.7" height="6.31" fill="#ffff00"/>
<rect x="255.2" y="402.59" width="4.6" height="6.31" fill="#ffff00"/>
<rect x="260.8" y="402.59" width="4.2" height="6.31" fill="#ffff00"/>
<rect x="278.2" y="402.59" width="5.7" height="6.31" fill="#ffff00"/>
<rect x="284.9" y="402.59" width="6.1" height="6.31" fill="#ffff00"/>
<rect x="293.0" y="402.59" width="7.4" height="6.31" fill="#ffff00"/>
<rect x="306.2" y="402.59" width="6.0" height="6.31" fill="#ffff00"/>
<rect x="319.1" y="402.59" width="2.4" height="6.31" fill="#ffff00"/>
<rect x="321.5" y="402.59" width="2.4" height="6.31" fill="#1aa0f8"/>
<rect x="323.9" y="402.59" width="4.7" height="6.31" fill="#ffff00"/>
<rect x="332.1" y="402.59" width="8.5" height="6.31" fill="#ffff00"/>
<rect x="346.1" y="402.59" width="10.0" height="6.31" fill="#ffff00"/>
<rect x="360.1" y="402.59" width="7.5" height="6.31" fill="#ffff00"/>
<rect x="367.6" y="402.59" width="2.5" height="6.31" fill="#1aa0f8"/>
<rect x="370.1" y="402.59" width="2.5" height="6.31" fill="#ffff00"/>
<rect x="376.1" y="402.59" width="8.4" height="6.31" fill="#ffff00"/>
<rect x="384.5" y="402.59" width="2.8" height="6.31" fill="#1aa0f8"/>
<rect x="387.3" y="402.59" width="2.8" height="6.31" fill="#ffff00"/>
<rect x="248.8" y="408.89" width="7.7" height="6.31" fill="#ffff00"/>
<rect x="257.4" y="408.89" width="4.6" height="6.31" fill="#ffff00"/>
<rect x="263.0" y="408.89" width="4.2" height="6.31" fill="#ffff00"/>
<rect x="280.2" y="408.89" width="5.9" height="6.31" fill="#ffff00"/>
<rect x="287.1" y="408.89" width="6.2" height="6.31" fill="#ffff00"/>
<rect x="295.3" y="408.89" width="7.4" height="6.31" fill="#ffff00"/>
<rect x="307.6" y="408.89" width="6.0" height="6.31" fill="#ffff00"/>
<rect x="320.2" y="408.89" width="4.7" height="6.31" fill="#ffff00"/>
<rect x="324.9" y="408.89" width="4.7" height="6.31" fill="#1aa0f8"/>
<rect x="333.0" y="408.89" width="2.8" height="6.31" fill="#ffff00"/>
<rect x="335.8" y="408.89" width="5.7" height="6.31" fill="#1aa0f8"/>
<rect x="347.0" y="408.89" width="2.5" height="6.31" fill="#1aa0f8"/>
<rect x="349.5" y="408.89" width="2.5" height="6.31" fill="#ffff00"/>
<rect x="352.0" y="408.89" width="5.0" height="6.31" fill="#1aa0f8"/>
<rect x="360.8" y="408.89" width="2.4" height="6.31" fill="#1aa0f8"/>
<rect x="363.2" y="408.89" width="2.4" height="6.31" fill="#ffff00"/>
<rect x="365.6" y="408.89" width="2.4" height="6.31" fill="#1aa0f8"/>
<rect x="368.1" y="408.89" width="2.4" height="6.31" fill="#ffff00"/>
<rect x="370.5" y="408.89" width="2.4" height="6.31" fill="#1aa0f8"/>
<rect x="376.6" y="408.89" width="5.6" height="6.31" fill="#ffff00"/>
<rect x="382.2" y="408.89" width="2.8" height="6.31" fill="#1aa0f8"/>
<rect x="385.0" y="408.89" width="5.6" height="6.31" fill="#ffff00"/>
<rect x="251.0" y="415.20" width="7.7" height="6.31" fill="#ffff00"/>
<rect x="259.6" y="415.20" width="4.6" height="6.31" fill="#ffff00"/>
<rect x="265.2" y="415.20" width="4.2" height="6.31" fill="#ffff00"/>
<rect x="282.2" y="415.20" width="6.0" height="6.31" fill="#ffff00"/>
<rect x="289.2" y="415.20" width="6.3" height="6.31" fill="#ffff00"/>
<rect x="297.5" y="415.20" width="7.5" height="6.31" fill="#ffff00"/>
<rect x="309.1" y="415.20" width="6.0" height="6.31" fill="#ffff00"/>
<rect x="321.3" y="415.20" width="9.3" height="6.31" fill="#ffff00"/>
<rect x="333.8" y="415.20" width="5.7" height="6.31" fill="#ffff00"/>
<rect x="339.5" y="415.20" width="2.8" height="6.31" fill="#1aa0f8"/>
<rect x="347.9" y="415.20" width="2.5" height="6.31" fill="#ffff00"/>
<rect x="350.4" y="415.20" width="7.4" height="6.31" fill="#1aa0f8"/>
<rect x="361.4" y="415.20" width="4.7" height="6.31" fill="#ffff00"/>
<rect x="366.2" y="415.20" width="2.4" height="6.31" fill="#1aa0f8"/>
<rect x="368.5" y="415.20" width="4.7" height="6.31" fill="#ffff00"/>
<rect x="377.1" y="415.20" width="5.6" height="6.31" fill="#ffff00"/>
<rect x="382.7" y="415.20" width="5.6" height="6.31" fill="#1aa0f8"/>
<rect x="388.3" y="415.20" width="2.8" height="6.31" fill="#ffff00"/>
<rect x="253.2" y="421.51" width="2.6" height="6.31" fill="#1aa0f8"/>
<rect x="255.8" y="421.51" width="5.2" height="6.31" fill="#ffff00"/>
<rect x="261.8" y="421.51" width="4.6" height="6.31" fill="#ffff00"/>
<rect x="267.4" y="421.51" width="4.2" height="6.31" fill="#ffff00"/>
<rect x="284.2" y="421.51" width="6.1" height="6.31" fill="#ffff00"/>
<rect x="291.3" y="421.51" width="6.4" height="6.31" fill="#ffff00"/>
<rect x="299.7" y="421.51" width="7.6" height="6.31" fill="#ffff00"/>
<rect x="310.6" y="421.51" width="6.0" height="6.31" fill="#ffff00"/>
<rect x="322.4" y="421.51" width="4.6" height="6.31" fill="#1aa0f8"/>
<rect x="327.0" y="421.51" width="4.6" height="6.31" fill="#ffff00"/>
<rect x="334.7" y="421.51" width="2.8" height="6.31" fill="#ffff00"/>
<rect x="337.5" y="421.51" width="2.8" height="6.31" fill="#1aa0f8"/>
<rect x="340.3" y="421.51" width="2.8" height="6.31" fill="#ffff00"/>
<rect x="348.8" y="421.51" width="2.5" height="6.31" fill="#ffff00"/>
<rect x="351.2" y="421.51" width="2.5" height="6.31" fill="#1aa0f8"/>
<rect x="353.7" y="421.51" width="4.9" height="6.31" fill="#ffff00"/>
<rect x="362.1" y="421.51" width="5.8" height="6.31" fill="#1aa0f8"/>
<rect x="367.9" y="421.51" width="5.8" height="6.31" fill="#ffff00"/>
<rect x="377.6" y="421.51" width="2.8" height="6.31" fill="#1aa0f8"/>
<rect x="380.4" y="421.51" width="2.8" height="6.31" fill="#ffff00"/>
<rect x="383.2" y="421.51" width="8.5" height="6.31" fill="#1aa0f8"/>
<rect x="255.4" y="427.82" width="7.8" height="6.31" fill="#ffff00"/>
<rect x="264.0" y="427.82" width="4.6" height="6.31" fill="#ffff00"/>
<rect x="269.6" y="427.82" width="4.2" height="6.31" fill="#ffff00"/>
<rect x="286.2" y="427.82" width="6.3" height="6.31" fill="#ffff00"/>
<rect x="293.5" y="427.82" width="6.5" height="6.31" fill="#ffff00"/>
<rect x="302.0" y="427.82" width="7.6" height="6.31" fill="#ffff00"/>
<rect x="312.1" y="427.82" width="3.0" height="6.31" fill="#1aa0f8"/>
<rect x="315.1" y="427.82" width="3.0" height="6.31" fill="#ffff00"/>
<rect x="323.5" y="427.82" width="9.0" height="6.31" fill="#ffff00"/>
<rect x="335.6" y="427.82" width="2.8" height="6.31" fill="#1aa0f8"/>
<rect x="338.4" y="427.82" width="5.6" height="6.31" fill="#ffff00"/>
<rect x="349.7" y="427.82" width="9.8" height="6.31" fill="#ffff00"/>
<rect x="362.8" y="427.82" width="5.6" height="6.31" fill="#ffff00"/>
<rect x="368.4" y="427.82" width="2.8" height="6.31" fill="#1aa0f8"/>
<rect x="371.2" y="427.82" width="2.8" height="6.31" fill="#ffff00"/>
<rect x="378.1" y="427.82" width="8.5" height="6.31" fill="#ffff00"/>
<rect x="386.6" y="427.82" width="2.8" height="6.31" fill="#1aa0f8"/>
<rect x="389.4" y="427.82" width="2.8" height="6.31" fill="#ffff00"/>
<rect x="257.6" y="434.13" width="7.8" height="6.31" fill="#ffff00"/>
<rect x="266.2" y="434.13" width="4.6" height="6.31" fill="#ffff00"/>
<rect x="271.8" y="434.13" width="4.3" height="6.31" fill="#ffff00"/>
<rect x="288.2" y="434.13" width="6.4" height="6.31" fill="#ffff00"/>
<rect x="295.6" y="434.13" width="6.6" height="6.31" fill="#ffff00"/>
<rect x="304.2" y="434.13" width="7.7" height="6.31" fill="#ffff00"/>
<rect x="313.5" y="434.13" width="3.0" height="6.31" fill="#1aa0f8"/>
<rect x="316.5" y="434.13" width="3.0" height="6.31" fill="#ffff00"/>
<rect x="324.6" y="434.13" width="8.9" height="6.31" fill="#ffff00"/>
<rect x="336.4" y="434.13" width="2.8" height="6.31" fill="#ffff00"/>
<rect x="339.2" y="434.13" width="2.8" height="6.31" fill="#1aa0f8"/>
<rect x="342.0" y="434.13" width="2.8" height="6.31" fill="#ffff00"/>
<rect x="350.6" y="434.13" width="2.4" height="6.31" fill="#1aa0f8"/>
<rect x="353.0" y="434.13" width="7.3" height="6.31" fill="#ffff00"/>
<rect x="363.5" y="434.13" width="2.7" height="6.31" fill="#ffff00"/>
<rect x="366.2" y="434.13" width="5.4" height="6.31" fill="#1aa0f8"/>
<rect x="371.7" y="434.13" width="2.7" height="6.31" fill="#ffff00"/>
<rect x="378.6" y="434.13" width="5.7" height="6.31" fill="#1aa0f8"/>
<rect x="384.3" y="434.13" width="5.7" height="6.31" fill="#ffff00"/>
<rect x="390.0" y="434.13" width="2.8" height="6.31" fill="#1aa0f8"/>
<rect x="259.5" y="440.44" width="8.0" height="6.31" fill="#ffff00"/>
<rect x="268.4" y="440.44" width="4.8" height="6.31" fill="#ffff00"/>
<rect x="274.2" y="440.44" width="4.4" height="6.31" fill="#ffff00"/>
<rect x="290.2" y="440.44" width="6.5" height="6.31" fill="#ffff00"/>
<rect x="297.8" y="440.44" width="6.7" height="6.31" fill="#ffff00"/>
<rect x="306.4" y="440.44" width="7.8" height="6.31" fill="#ffff00"/>
<rect x="315.0" y="440.44" width="6.0" height="6.31" fill="#ffff00"/>
<rect x="325.7" y="440.44" width="8.8" height="6.31" fill="#ffff00"/>
<rect x="337.3" y="440.44" width="5.6" height="6.31" fill="#ffff00"/>
<rect x="342.9" y="440.44" width="2.8" height="6.31" fill="#1aa0f8"/>
<rect x="351.5" y="440.44" width="9.7" height="6.31" fill="#ffff00"/>
<rect x="364.2" y="440.44" width="10.6" height="6.31" fill="#ffff00"/>
<rect x="379.1" y="440.44" width="2.9" height="6.31" fill="#ffff00"/>
<rect x="381.9" y="440.44" width="2.9" height="6.31" fill="#1aa0f8"/>
<rect x="384.8" y="440.44" width="5.7" height="6.31" fill="#ffff00"/>
<rect x="390.5" y="440.44" width="2.9" height="6.31" fill="#1aa0f8"/>
<rect x="261.1" y="446.75" width="8.5" height="6.31" fill="#ffff00"/>
<rect x="270.6" y="446.75" width="5.1" height="6.31" fill="#ffff00"/>
<rect x="276.7" y="446.75" width="4.6" height="6.31" fill="#ffff00"/>
<rect x="292.2" y="446.75" width="6.7" height="6.31" fill="#ffff00"/>
<rect x="299.9" y="446.75" width="6.8" height="6.31" fill="#ffff00"/>
<rect x="308.7" y="446.75" width="10.8" height="6.31" fill="#ffff00"/>
<rect x="319.5" y="446.75" width="3.0" height="6.31" fill="#1aa0f8"/>
<rect x="326.8" y="446.75" width="8.7" height="6.31" fill="#ffff00"/>
<rect x="338.1" y="446.75" width="5.6" height="6.31" fill="#ffff00"/>
<rect x="343.8" y="446.75" width="2.8" height="6.31" fill="#1aa0f8"/>
<rect x="352.4" y="446.75" width="9.6" height="6.31" fill="#ffff00"/>
<rect x="364.9" y="446.75" width="2.6" height="6.31" fill="#1aa0f8"/>
<rect x="367.4" y="446.75" width="7.7" height="6.31" fill="#ffff00"/>
<rect x="379.6" y="446.75" width="11.4" height="6.31" fill="#ffff00"/>
<rect x="391.0" y="446.75" width="2.9" height="6.31" fill="#1aa0f8"/>
<rect x="262.8" y="453.06" width="9.0" height="6.31" fill="#ffff00"/>
<rect x="272.8" y="453.06" width="5.3" height="6.31" fill="#ffff00"/>
<rect x="279.2" y="453.06" width="4.9" height="6.31" fill="#ffff00"/>
<rect x="294.2" y="453.06" width="6.8" height="6.31" fill="#ffff00"/>
<rect x="302.0" y="453.06" width="6.9" height="6.31" fill="#ffff00"/>
<rect x="310.9" y="453.06" width="7.9" height="6.31" fill="#ffff00"/>
<rect x="317.9" y="453.06" width="6.0" height="6.31" fill="#1aa0f8"/>
<rect x="327.9" y="453.06" width="8.6" height="6.31" fill="#ffff00"/>
<rect x="339.0" y="453.06" width="8.4" height="6.31" fill="#ffff00"/>
<rect x="353.3" y="453.06" width="9.6" height="6.31" fill="#ffff00"/>
<rect x="365.5" y="453.06" width="2.5" height="6.31" fill="#1aa0f8"/>
<rect x="368.0" y="453.06" width="7.5" height="6.31" fill="#ffff00"/>
<rect x="380.1" y="453.06" width="2.4" height="6.31" fill="#ffff00"/>
<rect x="382.5" y="453.06" width="7.2" height="6.31" fill="#1aa0f8"/>
<rect x="389.7" y="453.06" width="4.8" height="6.31" fill="#ffff00"/>
<rect x="264.5" y="459.37" width="9.4" height="6.31" fill="#ffff00"/>
<rect x="275.0" y="459.37" width="5.6" height="6.31" fill="#ffff00"/>
<rect x="281.8" y="459.37" width="5.2" height="6.31" fill="#ffff00"/>
<rect x="296.2" y="459.37" width="6.9" height="6.31" fill="#ffff00"/>
<rect x="304.2" y="459.37" width="7.0" height="6.31" fill="#ffff00"/>
<rect x="313.1" y="459.37" width="8.0" height="6.31" fill="#ffff00"/>
<rect x="319.4" y="459.37" width="3.0" height="6.31" fill="#1aa0f8"/>
<rect x="322.4" y="459.37" width="3.0" height="6.31" fill="#ffff00"/>
<rect x="329.0" y="459.37" width="2.8" height="6.31" fill="#ffff00"/>
<rect x="331.8" y="459.37" width="2.8" height="6.31" fill="#1aa0f8"/>
<rect x="334.6" y="459.37" width="2.8" height="6.31" fill="#ffff00"/>
<rect x="339.9" y="459.37" width="8.4" height="6.31" fill="#ffff00"/>
<rect x="354.1" y="459.37" width="2.4" height="6.31" fill="#1aa0f8"/>
<rect x="356.5" y="459.37" width="2.4" height="6.31" fill="#ffff00"/>
<rect x="358.9" y="459.37" width="4.8" height="6.31" fill="#1aa0f8"/>
<rect x="366.2" y="459.37" width="7.2" height="6.31" fill="#ffff00"/>
<rect x="373.4" y="459.37" width="2.4" height="6.31" fill="#1aa0f8"/>
<rect x="380.6" y="459.37" width="2.4" height="6.31" fill="#1aa0f8"/>
<rect x="383.0" y="459.37" width="4.8" height="6.31" fill="#ffff00"/>
<rect x="387.8" y="459.37" width="2.4" height="6.31" fill="#1aa0f8"/>
<rect x="390.2" y="459.37" width="2.4" height="6.31" fill="#ffff00"/>
<rect x="392.6" y="459.37" width="2.4" height="6.31" fill="#1aa0f8"/>
<rect x="266.2" y="465.68" width="9.7" height="6.31" fill="#ffff00"/>
<rect x="277.0" y="465.68" width="5.8" height="6.31" fill="#ffff00"/>
<rect x="284.0" y="465.68" width="5.3" height="6.31" fill="#ffff00"/>
<rect x="298.0" y="465.68" width="6.9" height="6.31" fill="#ffff00"/>
<rect x="305.9" y="465.68" width="6.9" height="6.31" fill="#ffff00"/>
<rect x="314.8" y="465.68" width="7.9" height="6.31" fill="#ffff00"/>
<rect x="321.1" y="465.68" width="3.0" height="6.31" fill="#1aa0f8"/>
<rect x="324.1" y="465.68" width="3.0" height="6.31" fill="#ffff00"/>
<rect x="330.4" y="465.68" width="8.3" height="6.31" fill="#ffff00"/>
<rect x="341.1" y="465.68" width="8.3" height="6.31" fill="#ffff00"/>
<rect x="355.2" y="465.68" width="4.7" height="6.31" fill="#ffff00"/>
<rect x="359.9" y="465.68" width="2.3" height="6.31" fill="#1aa0f8"/>
<rect x="362.3" y="465.68" width="2.3" height="6.31" fill="#ffff00"/>
<rect x="367.1" y="465.68" width="9.4" height="6.31" fill="#ffff00"/>
<rect x="381.2" y="465.68" width="2.8" height="6.31" fill="#1aa0f8"/>
<rect x="384.1" y="465.68" width="5.7" height="6.31" fill="#ffff00"/>
<rect x="389.8" y="465.68" width="2.8" height="6.31" fill="#1aa0f8"/>
<rect x="392.6" y="465.68" width="2.8" height="6.31" fill="#ffff00"/>
<rect x="268.6" y="471.98" width="9.6" height="6.31" fill="#ffff00"/>
<rect x="279.3" y="471.98" width="5.7" height="6.31" fill="#ffff00"/>
<rect x="286.1" y="471.98" width="5.2" height="6.31" fill="#ffff00"/>
<rect x="299.7" y="471.98" width="6.8" height="6.31" fill="#ffff00"/>
<rect x="307.4" y="471.98" width="6.8" height="6.31" fill="#ffff00"/>
<rect x="316.2" y="471.98" width="7.8" height="6.31" fill="#ffff00"/>
<rect x="322.9" y="471.98" width="2.9" height="6.31" fill="#ffff00"/>
<rect x="325.8" y="471.98" width="2.9" height="6.31" fill="#1aa0f8"/>
<rect x="332.0" y="471.98" width="8.2" height="6.31" fill="#ffff00"/>
<rect x="342.5" y="471.98" width="8.2" height="6.31" fill="#ffff00"/>
<rect x="356.4" y="471.98" width="4.6" height="6.31" fill="#ffff00"/>
<rect x="361.1" y="471.98" width="4.6" height="6.31" fill="#1aa0f8"/>
<rect x="368.1" y="471.98" width="2.3" height="6.31" fill="#ffff00"/>
<rect x="370.4" y="471.98" width="4.6" height="6.31" fill="#1aa0f8"/>
<rect x="375.0" y="471.98" width="2.3" height="6.31" fill="#ffff00"/>
<rect x="382.0" y="471.98" width="13.9" height="6.31" fill="#ffff00"/>
<rect x="271.1" y="478.29" width="9.4" height="6.31" fill="#ffff00"/>
<rect x="281.6" y="478.29" width="5.6" height="6.31" fill="#ffff00"/>
<rect x="288.3" y="478.29" width="5.2" height="6.31" fill="#ffff00"/>
<rect x="301.3" y="478.29" width="6.6" height="6.31" fill="#ffff00"/>
<rect x="308.9" y="478.29" width="6.7" height="6.31" fill="#ffff00"/>
<rect x="317.5" y="478.29" width="7.6" height="6.31" fill="#ffff00"/>
<rect x="324.7" y="478.29" width="2.9" height="6.31" fill="#ffff00"/>
<rect x="327.5" y="478.29" width="2.9" height="6.31" fill="#1aa0f8"/>
<rect x="333.7" y="478.29" width="5.3" height="6.31" fill="#1aa0f8"/>
<rect x="339.0" y="478.29" width="2.7" height="6.31" fill="#ffff00"/>
<rect x="344.0" y="478.29" width="2.7" height="6.31" fill="#ffff00"/>
<rect x="346.6" y="478.29" width="2.7" height="6.31" fill="#1aa0f8"/>
<rect x="349.3" y="478.29" width="2.7" height="6.31" fill="#ffff00"/>
<rect x="357.6" y="478.29" width="9.1" height="6.31" fill="#ffff00"/>
<rect x="369.1" y="478.29" width="3.0" height="6.31" fill="#1aa0f8"/>
<rect x="372.1" y="478.29" width="6.0" height="6.31" fill="#ffff00"/>
<rect x="382.7" y="478.29" width="5.5" height="6.31" fill="#ffff00"/>
<rect x="388.1" y="478.29" width="8.2" height="6.31" fill="#1aa0f8"/>
<rect x="273.6" y="484.60" width="9.2" height="6.31" fill="#ffff00"/>
<rect x="283.9" y="484.60" width="5.5" height="6.31" fill="#ffff00"/>
<rect x="290.5" y="484.60" width="5.1" height="6.31" fill="#ffff00"/>
<rect x="303.0" y="484.60" width="6.5" height="6.31" fill="#ffff00"/>
<rect x="310.4" y="484.60" width="6.6" height="6.31" fill="#ffff00"/>
<rect x="318.9" y="484.60" width="10.3" height="6.31" fill="#ffff00"/>
<rect x="329.2" y="484.60" width="2.8" height="6.31" fill="#1aa0f8"/>
<rect x="335.3" y="484.60" width="5.2" height="6.31" fill="#1aa0f8"/>
<rect x="340.5" y="484.60" width="2.6" height="6.31" fill="#ffff00"/>
<rect x="345.4" y="484.60" width="7.9" height="6.31" fill="#ffff00"/>
<rect x="358.8" y="484.60" width="8.9" height="6.31" fill="#ffff00"/>
<rect x="370.1" y="484.60" width="3.0" height="6.31" fill="#ffff00"/>
<rect x="373.0" y="484.60" width="5.9" height="6.31" fill="#1aa0f8"/>
<rect x="383.4" y="484.60" width="13.3" height="6.31" fill="#ffff00"/>
<rect x="276.1" y="490.91" width="9.1" height="6.31" fill="#ffff00"/>
<rect x="286.3" y="490.91" width="5.4" height="6.31" fill="#ffff00"/>
<rect x="292.7" y="490.91" width="5.0" height="6.31" fill="#ffff00"/>
<rect x="304.6" y="490.91" width="6.3" height="6.31" fill="#ffff00"/>
<rect x="311.9" y="490.91" width="6.6" height="6.31" fill="#ffff00"/>
<rect x="320.3" y="490.91" width="7.3" height="6.31" fill="#ffff00"/>
<rect x="328.2" y="490.91" width="2.8" height="6.31" fill="#ffff00"/>
<rect x="331.0" y="490.91" width="2.8" height="6.31" fill="#1aa0f8"/>
<rect x="336.9" y="490.91" width="7.7" height="6.31" fill="#ffff00"/>
<rect x="346.9" y="490.91" width="2.6" height="6.31" fill="#ffff00"/>
<rect x="349.4" y="490.91" width="2.6" height="6.31" fill="#1aa0f8"/>
<rect x="352.0" y="490.91" width="2.6" height="6.31" fill="#ffff00"/>
<rect x="360.0" y="490.91" width="8.7" height="6.31" fill="#ffff00"/>
<rect x="371.1" y="490.91" width="8.7" height="6.31" fill="#ffff00"/>
<rect x="384.1" y="490.91" width="13.1" height="6.31" fill="#ffff00"/>
<rect x="278.6" y="497.22" width="8.9" height="6.31" fill="#ffff00"/>
<rect x="288.6" y="497.22" width="5.3" height="6.31" fill="#ffff00"/>
<rect x="294.9" y="497.22" width="4.9" height="6.31" fill="#ffff00"/>
<rect x="306.3" y="497.22" width="6.2" height="6.31" fill="#ffff00"/>
<rect x="313.4" y="497.22" width="6.5" height="6.31" fill="#ffff00"/>
<rect x="321.6" y="497.22" width="7.2" height="6.31" fill="#ffff00"/>
<rect x="330.0" y="497.22" width="5.4" height="6.31" fill="#ffff00"/>
<rect x="338.5" y="497.22" width="7.6" height="6.31" fill="#ffff00"/>
<rect x="348.3" y="497.22" width="5.1" height="6.31" fill="#ffff00"/>
<rect x="353.4" y="497.22" width="2.5" height="6.31" fill="#1aa0f8"/>
<rect x="361.2" y="497.22" width="2.9" height="6.31" fill="#ffff00"/>
<rect x="364.1" y="497.22" width="5.7" height="6.31" fill="#1aa0f8"/>
<rect x="372.1" y="497.22" width="2.9" height="6.31" fill="#ffff00"/>
<rect x="374.9" y="497.22" width="5.7" height="6.31" fill="#1aa0f8"/>
<rect x="384.8" y="497.22" width="2.6" height="6.31" fill="#ffff00"/>
<rect x="387.4" y="497.22" width="2.6" height="6.31" fill="#1aa0f8"/>
<rect x="389.9" y="497.22" width="5.1" height="6.31" fill="#ffff00"/>
<rect x="395.0" y="497.22" width="2.6" height="6.31" fill="#1aa0f8"/>
<rect x="281.2" y="503.53" width="8.7" height="6.31" fill="#ffff00"/>
<rect x="290.9" y="503.53" width="5.2" height="6.31" fill="#ffff00"/>
<rect x="297.1" y="503.53" width="4.8" height="6.31" fill="#ffff00"/>
<rect x="307.9" y="503.53" width="6.0" height="6.31" fill="#ffff00"/>
<rect x="314.9" y="503.53" width="6.4" height="6.31" fill="#ffff00"/>
<rect x="323.0" y="503.53" width="7.0" height="6.31" fill="#ffff00"/>
<rect x="331.8" y="503.53" width="2.6" height="6.31" fill="#ffff00"/>
<rect x="334.4" y="503.53" width="2.6" height="6.31" fill="#1aa0f8"/>
<rect x="340.2" y="503.53" width="2.5" height="6.31" fill="#ffff00"/>
<rect x="342.7" y="503.53" width="5.0" height="6.31" fill="#1aa0f8"/>
<rect x="349.8" y="503.53" width="2.5" height="6.31" fill="#ffff00"/>
<rect x="352.2" y="503.53" width="2.5" height="6.31" fill="#1aa0f8"/>
<rect x="354.7" y="503.53" width="2.5" height="6.31" fill="#ffff00"/>
<rect x="362.5" y="503.53" width="2.8" height="6.31" fill="#1aa0f8"/>
<rect x="365.3" y="503.53" width="2.8" height="6.31" fill="#ffff00"/>
<rect x="368.1" y="503.53" width="2.8" height="6.31" fill="#1aa0f8"/>
<rect x="373.0" y="503.53" width="5.6" height="6.31" fill="#ffff00"/>
<rect x="378.6" y="503.53" width="2.8" height="6.31" fill="#1aa0f8"/>
<rect x="385.5" y="503.53" width="5.0" height="6.31" fill="#1aa0f8"/>
<rect x="390.5" y="503.53" width="7.5" height="6.31" fill="#ffff00"/>
<rect x="283.7" y="509.84" width="8.6" height="6.31" fill="#ffff00"/>
<rect x="293.3" y="509.84" width="5.1" height="6.31" fill="#ffff00"/>
<rect x="299.5" y="509.84" width="4.7" height="6.31" fill="#ffff00"/>
<rect x="309.6" y="509.84" width="5.9" height="6.31" fill="#ffff00"/>
<rect x="316.4" y="509.84" width="6.3" height="6.31" fill="#ffff00"/>
<rect x="324.3" y="509.84" width="6.9" height="6.31" fill="#ffff00"/>
<rect x="333.6" y="509.84" width="5.2" height="6.31" fill="#ffff00"/>
<rect x="341.8" y="509.84" width="7.3" height="6.31" fill="#ffff00"/>
<rect x="351.2" y="509.84" width="2.4" height="6.31" fill="#ffff00"/>
<rect x="353.6" y="509.84" width="2.4" height="6.31" fill="#1aa0f8"/>
<rect x="356.1" y="509.84" width="2.4" height="6.31" fill="#ffff00"/>
<rect x="363.7" y="509.84" width="2.7" height="6.31" fill="#ffff00"/>
<rect x="366.4" y="509.84" width="5.5" height="6.31" fill="#1aa0f8"/>
<rect x="374.0" y="509.84" width="8.2" height="6.31" fill="#ffff00"/>
<rect x="386.3" y="509.84" width="2.4" height="6.31" fill="#ffff00"/>
<rect x="388.7" y="509.84" width="4.9" height="6.31" fill="#1aa0f8"/>
<rect x="393.6" y="509.84" width="4.9" height="6.31" fill="#ffff00"/>
<rect x="286.2" y="516.15" width="8.6" height="6.31" fill="#ffff00"/>
<rect x="295.9" y="516.15" width="5.1" height="6.31" fill="#ffff00"/>
<rect x="302.0" y="516.15" width="4.7" height="6.31" fill="#ffff00"/>
<rect x="311.2" y="516.15" width="5.7" height="6.31" fill="#ffff00"/>
<rect x="317.9" y="516.15" width="6.2" height="6.31" fill="#ffff00"/>
<rect x="325.7" y="516.15" width="6.7" height="6.31" fill="#ffff00"/>
<rect x="335.4" y="516.15" width="5.1" height="6.31" fill="#ffff00"/>
<rect x="343.4" y="516.15" width="7.1" height="6.31" fill="#ffff00"/>
<rect x="352.6" y="516.15" width="7.1" height="6.31" fill="#ffff00"/>
<rect x="364.9" y="516.15" width="8.1" height="6.31" fill="#ffff00"/>
<rect x="375.0" y="516.15" width="2.7" height="6.31" fill="#ffff00"/>
<rect x="377.7" y="516.15" width="2.7" height="6.31" fill="#1aa0f8"/>
<rect x="380.4" y="516.15" width="2.7" height="6.31" fill="#ffff00"/>
<rect x="387.0" y="516.15" width="11.9" height="6.31" fill="#ffff00"/>
<rect x="288.7" y="522.46" width="8.6" height="6.31" fill="#ffff00"/>
<rect x="298.4" y="522.46" width="2.6" height="6.31" fill="#ffff00"/>
<rect x="300.9" y="522.46" width="2.6" height="6.31" fill="#1aa0f8"/>
<rect x="304.5" y="522.46" width="4.7" height="6.31" fill="#ffff00"/>
<rect x="312.9" y="522.46" width="5.6" height="6.31" fill="#ffff00"/>
<rect x="319.5" y="522.46" width="6.1" height="6.31" fill="#ffff00"/>
<rect x="327.1" y="522.46" width="6.6" height="6.31" fill="#ffff00"/>
<rect x="337.2" y="522.46" width="5.0" height="6.31" fill="#1aa0f8"/>
<rect x="345.1" y="522.46" width="2.3" height="6.31" fill="#1aa0f8"/>
<rect x="347.4" y="522.46" width="4.7" height="6.31" fill="#ffff00"/>
<rect x="354.1" y="522.46" width="4.7" height="6.31" fill="#1aa0f8"/>
<rect x="358.8" y="522.46" width="2.3" height="6.31" fill="#ffff00"/>
<rect x="366.1" y="522.46" width="7.9" height="6.31" fill="#ffff00"/>
<rect x="376.0" y="522.46" width="7.9" height="6.31" fill="#ffff00"/>
<rect x="387.7" y="522.46" width="2.9" height="6.31" fill="#ffff00"/>
<rect x="390.6" y="522.46" width="2.9" height="6.31" fill="#1aa0f8"/>
<rect x="393.5" y="522.46" width="5.8" height="6.31" fill="#ffff00"/>
<rect x="291.4" y="528.77" width="9.4" height="6.31" fill="#ffff00"/>
<rect x="301.9" y="528.77" width="5.6" height="6.31" fill="#ffff00"/>
<rect x="308.6" y="528.77" width="5.1" height="6.31" fill="#ffff00"/>
<rect x="316.7" y="528.77" width="5.1" height="6.31" fill="#ffff00"/>
<rect x="322.7" y="528.77" width="5.5" height="6.31" fill="#ffff00"/>
<rect x="329.9" y="528.77" width="6.6" height="6.31" fill="#ffff00"/>
<rect x="339.0" y="528.77" width="2.4" height="6.31" fill="#ffff00"/>
<rect x="341.3" y="528.77" width="2.4" height="6.31" fill="#1aa0f8"/>
<rect x="343.7" y="528.77" width="2.4" height="6.31" fill="#ffff00"/>
<rect x="346.0" y="528.77" width="2.4" height="6.31" fill="#1aa0f8"/>
<rect x="349.3" y="528.77" width="9.7" height="6.31" fill="#ffff00"/>
<rect x="360.0" y="528.77" width="2.6" height="6.31" fill="#1aa0f8"/>
<rect x="362.6" y="528.77" width="2.6" height="6.31" fill="#ffff00"/>
<rect x="365.2" y="528.77" width="2.6" height="6.31" fill="#1aa0f8"/>
<rect x="367.8" y="528.77" width="2.6" height="6.31" fill="#ffff00"/>
<rect x="371.3" y="528.77" width="2.4" height="6.31" fill="#1aa0f8"/>
<rect x="373.7" y="528.77" width="4.9" height="6.31" fill="#ffff00"/>
<rect x="378.6" y="528.77" width="2.4" height="6.31" fill="#1aa0f8"/>
<rect x="381.9" y="528.77" width="9.1" height="6.31" fill="#ffff00"/>
<rect x="392.0" y="528.77" width="4.9" height="6.31" fill="#ffff00"/>
<rect x="396.8" y="528.77" width="2.4" height="6.31" fill="#1aa0f8"/>
<rect x="399.3" y="528.77" width="2.4" height="6.31" fill="#ffff00"/>
<rect x="294.2" y="535.07" width="9.2" height="6.31" fill="#ffff00"/>
<rect x="304.5" y="535.07" width="5.5" height="6.31" fill="#ffff00"/>
<rect x="311.1" y="535.07" width="5.0" height="6.31" fill="#ffff00"/>
<rect x="319.0" y="535.07" width="5.0" height="6.31" fill="#ffff00"/>
<rect x="324.9" y="535.07" width="5.3" height="6.31" fill="#ffff00"/>
<rect x="332.0" y="535.07" width="6.5" height="6.31" fill="#ffff00"/>
<rect x="340.8" y="535.07" width="4.6" height="6.31" fill="#ffff00"/>
<rect x="345.4" y="535.07" width="2.3" height="6.31" fill="#1aa0f8"/>
<rect x="347.7" y="535.07" width="2.3" height="6.31" fill="#ffff00"/>
<rect x="350.8" y="535.07" width="2.4" height="6.31" fill="#1aa0f8"/>
<rect x="353.2" y="535.07" width="4.7" height="6.31" fill="#ffff00"/>
<rect x="357.9" y="535.07" width="2.4" height="6.31" fill="#1aa0f8"/>
<rect x="361.2" y="535.07" width="10.0" height="6.31" fill="#ffff00"/>
<rect x="372.2" y="535.07" width="9.4" height="6.31" fill="#ffff00"/>
<rect x="382.5" y="535.07" width="8.8" height="6.31" fill="#ffff00"/>
<rect x="392.3" y="535.07" width="7.1" height="6.31" fill="#ffff00"/>
<rect x="399.3" y="535.07" width="2.4" height="6.31" fill="#1aa0f8"/>
<rect x="296.8" y="541.38" width="3.0" height="6.31" fill="#ffff00"/>
<rect x="299.8" y="541.38" width="3.0" height="6.31" fill="#1aa0f8"/>
<rect x="302.9" y="541.38" width="3.0" height="6.31" fill="#ffff00"/>
<rect x="307.0" y="541.38" width="5.4" height="6.31" fill="#ffff00"/>
<rect x="313.4" y="541.38" width="5.0" height="6.31" fill="#ffff00"/>
<rect x="321.1" y="541.38" width="4.9" height="6.31" fill="#ffff00"/>
<rect x="326.9" y="541.38" width="5.2" height="6.31" fill="#ffff00"/>
<rect x="333.9" y="541.38" width="6.4" height="6.31" fill="#ffff00"/>
<rect x="342.5" y="541.38" width="8.9" height="6.31" fill="#ffff00"/>
<rect x="352.2" y="541.38" width="6.9" height="6.31" fill="#ffff00"/>
<rect x="359.1" y="541.38" width="2.3" height="6.31" fill="#1aa0f8"/>
<rect x="362.3" y="541.38" width="2.4" height="6.31" fill="#ffff00"/>
<rect x="364.8" y="541.38" width="7.3" height="6.31" fill="#1aa0f8"/>
<rect x="373.0" y="541.38" width="2.3" height="6.31" fill="#ffff00"/>
<rect x="375.3" y="541.38" width="4.6" height="6.31" fill="#1aa0f8"/>
<rect x="379.9" y="541.38" width="2.3" height="6.31" fill="#ffff00"/>
<rect x="383.0" y="541.38" width="5.7" height="6.31" fill="#ffff00"/>
<rect x="388.8" y="541.38" width="2.9" height="6.31" fill="#1aa0f8"/>
<rect x="392.5" y="541.38" width="9.2" height="6.31" fill="#ffff00"/>
<rect x="299.3" y="547.69" width="5.9" height="6.31" fill="#ffff00"/>
<rect x="305.3" y="547.69" width="3.0" height="6.31" fill="#1aa0f8"/>
<rect x="309.3" y="547.69" width="5.3" height="6.31" fill="#ffff00"/>
<rect x="315.7" y="547.69" width="4.9" height="6.31" fill="#ffff00"/>
<rect x="323.2" y="547.69" width="4.8" height="6.31" fill="#ffff00"/>
<rect x="328.9" y="547.69" width="5.1" height="6.31" fill="#ffff00"/>
<rect x="335.7" y="547.69" width="6.3" height="6.31" fill="#ffff00"/>
<rect x="344.1" y="547.69" width="8.6" height="6.31" fill="#ffff00"/>
<rect x="353.6" y="547.69" width="6.0" height="6.31" fill="#1aa0f8"/>
<rect x="359.6" y="547.69" width="3.0" height="6.31" fill="#ffff00"/>
<rect x="363.4" y="547.69" width="2.4" height="6.31" fill="#ffff00"/>
<rect x="365.8" y="547.69" width="2.4" height="6.31" fill="#1aa0f8"/>
<rect x="368.1" y="547.69" width="2.4" height="6.31" fill="#ffff00"/>
<rect x="370.5" y="547.69" width="2.4" height="6.31" fill="#1aa0f8"/>
<rect x="373.8" y="547.69" width="8.9" height="6.31" fill="#ffff00"/>
<rect x="383.6" y="547.69" width="2.8" height="6.31" fill="#1aa0f8"/>
<rect x="386.3" y="547.69" width="5.6" height="6.31" fill="#ffff00"/>
<rect x="392.8" y="547.69" width="3.0" height="6.31" fill="#1aa0f8"/>
<rect x="395.7" y="547.69" width="3.0" height="6.31" fill="#ffff00"/>
<rect x="398.7" y="547.69" width="3.0" height="6.31" fill="#1aa0f8"/>
<rect x="301.7" y="554.00" width="10.7" height="6.31" fill="#ffff00"/>
<rect x="313.7" y="554.00" width="6.4" height="6.31" fill="#ffff00"/>
<rect x="321.4" y="554.00" width="5.9" height="6.31" fill="#ffff00"/>
<rect x="330.4" y="554.00" width="5.8" height="6.31" fill="#ffff00"/>
<rect x="337.2" y="554.00" width="6.2" height="6.31" fill="#ffff00"/>
<rect x="345.4" y="554.00" width="7.5" height="6.31" fill="#ffff00"/>
<rect x="355.4" y="554.00" width="2.6" height="6.31" fill="#ffff00"/>
<rect x="358.0" y="554.00" width="2.6" height="6.31" fill="#1aa0f8"/>
<rect x="360.6" y="554.00" width="5.1" height="6.31" fill="#ffff00"/>
<rect x="366.7" y="554.00" width="2.7" height="6.31" fill="#1aa0f8"/>
<rect x="369.4" y="554.00" width="8.0" height="6.31" fill="#ffff00"/>
<rect x="378.4" y="554.00" width="5.7" height="6.31" fill="#1aa0f8"/>
<rect x="384.1" y="554.00" width="2.8" height="6.31" fill="#ffff00"/>
<rect x="386.9" y="554.00" width="2.8" height="6.31" fill="#1aa0f8"/>
<rect x="390.7" y="554.00" width="2.7" height="6.31" fill="#1aa0f8"/>
<rect x="393.4" y="554.00" width="8.0" height="6.31" fill="#ffff00"/>
<rect x="402.4" y="554.00" width="2.5" height="6.31" fill="#1aa0f8"/>
<rect x="404.9" y="554.00" width="7.5" height="6.31" fill="#ffff00"/>
<rect x="413.4" y="554.00" width="5.3" height="6.31" fill="#ffff00"/>
<rect x="418.7" y="554.00" width="2.7" height="6.31" fill="#1aa0f8"/>
<rect x="421.3" y="554.00" width="2.7" height="6.31" fill="#ffff00"/>
<rect x="303.8" y="560.31" width="10.0" height="6.31" fill="#ffff00"/>
<rect x="315.0" y="560.31" width="5.9" height="6.31" fill="#ffff00"/>
<rect x="322.1" y="560.31" width="2.7" height="6.31" fill="#1aa0f8"/>
<rect x="324.8" y="560.31" width="2.7" height="6.31" fill="#ffff00"/>
<rect x="330.3" y="560.31" width="5.3" height="6.31" fill="#ffff00"/>
<rect x="336.6" y="560.31" width="5.7" height="6.31" fill="#ffff00"/>
<rect x="344.2" y="560.31" width="6.9" height="6.31" fill="#ffff00"/>
<rect x="353.3" y="560.31" width="9.4" height="6.31" fill="#ffff00"/>
<rect x="363.7" y="560.31" width="2.4" height="6.31" fill="#ffff00"/>
<rect x="366.1" y="560.31" width="7.3" height="6.31" fill="#1aa0f8"/>
<rect x="374.3" y="560.31" width="2.6" height="6.31" fill="#1aa0f8"/>
<rect x="376.9" y="560.31" width="5.2" height="6.31" fill="#ffff00"/>
<rect x="382.1" y="560.31" width="2.6" height="6.31" fill="#1aa0f8"/>
<rect x="385.6" y="560.31" width="9.7" height="6.31" fill="#ffff00"/>
<rect x="396.3" y="560.31" width="6.8" height="6.31" fill="#ffff00"/>
<rect x="403.1" y="560.31" width="2.3" height="6.31" fill="#1aa0f8"/>
<rect x="406.4" y="560.31" width="2.4" height="6.31" fill="#ffff00"/>
<rect x="408.8" y="560.31" width="2.4" height="6.31" fill="#1aa0f8"/>
<rect x="411.2" y="560.31" width="4.9" height="6.31" fill="#ffff00"/>
<rect x="305.9" y="566.62" width="9.3" height="6.31" fill="#ffff00"/>
<rect x="316.3" y="566.62" width="5.5" height="6.31" fill="#ffff00"/>
<rect x="323.0" y="566.62" width="5.1" height="6.31" fill="#ffff00"/>
<rect x="330.5" y="566.62" width="4.9" height="6.31" fill="#ffff00"/>
<rect x="336.3" y="566.62" width="5.3" height="6.31" fill="#ffff00"/>
<rect x="343.3" y="566.62" width="6.4" height="6.31" fill="#ffff00"/>
<rect x="351.7" y="566.62" width="5.8" height="6.31" fill="#1aa0f8"/>
<rect x="357.5" y="566.62" width="2.9" height="6.31" fill="#ffff00"/>
<rect x="361.2" y="566.62" width="9.0" height="6.31" fill="#ffff00"/>
<rect x="371.1" y="566.62" width="9.5" height="6.31" fill="#ffff00"/>
<rect x="381.5" y="566.62" width="9.0" height="6.31" fill="#ffff00"/>
<rect x="391.3" y="566.62" width="8.4" height="6.31" fill="#ffff00"/>
<rect x="400.5" y="566.62" width="3.0" height="6.31" fill="#ffff00"/>
<rect x="403.5" y="566.62" width="6.0" height="6.31" fill="#1aa0f8"/>
<rect x="307.2" y="572.93" width="8.5" height="6.31" fill="#ffff00"/>
<rect x="316.7" y="572.93" width="5.1" height="6.31" fill="#ffff00"/>
<rect x="322.8" y="572.93" width="4.7" height="6.31" fill="#ffff00"/>
<rect x="329.7" y="572.93" width="4.4" height="6.31" fill="#ffff00"/>
<rect x="334.9" y="572.93" width="2.4" height="6.31" fill="#1aa0f8"/>
<rect x="337.3" y="572.93" width="2.4" height="6.31" fill="#ffff00"/>
<rect x="341.2" y="572.93" width="5.8" height="6.31" fill="#ffff00"/>
<rect x="348.8" y="572.93" width="7.8" height="6.31" fill="#ffff00"/>
<rect x="357.4" y="572.93" width="8.1" height="6.31" fill="#ffff00"/>
<rect x="366.3" y="572.93" width="8.6" height="6.31" fill="#1aa0f8"/>
<rect x="375.7" y="572.93" width="8.1" height="6.31" fill="#ffff00"/>
<rect x="384.6" y="572.93" width="7.6" height="6.31" fill="#ffff00"/>
<rect x="393.0" y="572.93" width="2.7" height="6.31" fill="#1aa0f8"/>
<rect x="395.7" y="572.93" width="2.7" height="6.31" fill="#ffff00"/>
<rect x="398.4" y="572.93" width="2.7" height="6.31" fill="#1aa0f8"/>
<rect x="308.5" y="579.24" width="7.8" height="6.31" fill="#ffff00"/>
<rect x="317.2" y="579.24" width="2.3" height="6.31" fill="#1aa0f8"/>
<rect x="319.6" y="579.24" width="2.3" height="6.31" fill="#ffff00"/>
<rect x="322.8" y="579.24" width="4.3" height="6.31" fill="#ffff00"/>
<rect x="329.0" y="579.24" width="4.0" height="6.31" fill="#ffff00"/>
<rect x="333.8" y="579.24" width="4.3" height="6.31" fill="#ffff00"/>
<rect x="339.6" y="579.24" width="5.3" height="6.31" fill="#ffff00"/>
<rect x="346.4" y="579.24" width="7.1" height="6.31" fill="#ffff00"/>
<rect x="354.3" y="579.24" width="7.4" height="6.31" fill="#ffff00"/>
<rect x="362.3" y="579.24" width="2.6" height="6.31" fill="#1aa0f8"/>
<rect x="364.9" y="579.24" width="2.6" height="6.31" fill="#ffff00"/>
<rect x="367.6" y="579.24" width="2.6" height="6.31" fill="#1aa0f8"/>
<rect x="370.9" y="579.24" width="7.4" height="6.31" fill="#ffff00"/>
<rect x="378.9" y="579.24" width="2.3" height="6.31" fill="#ffff00"/>
<rect x="381.2" y="579.24" width="2.3" height="6.31" fill="#1aa0f8"/>
<rect x="383.5" y="579.24" width="2.3" height="6.31" fill="#ffff00"/>
<rect x="386.5" y="579.24" width="4.9" height="6.31" fill="#ffff00"/>
<rect x="391.4" y="579.24" width="2.5" height="6.31" fill="#1aa0f8"/>
<rect x="310.0" y="585.55" width="7.1" height="6.31" fill="#ffff00"/>
<rect x="317.9" y="585.55" width="4.2" height="6.31" fill="#ffff00"/>
<rect x="323.0" y="585.55" width="3.9" height="6.31" fill="#ffff00"/>
<rect x="328.5" y="585.55" width="3.6" height="6.31" fill="#ffff00"/>
<rect x="332.8" y="585.55" width="3.9" height="6.31" fill="#ffff00"/>
<rect x="338.0" y="585.55" width="4.7" height="6.31" fill="#ffff00"/>
<rect x="344.1" y="585.55" width="6.4" height="6.31" fill="#1aa0f8"/>
<rect x="351.1" y="585.55" width="6.6" height="6.31" fill="#ffff00"/>
<rect x="358.3" y="585.55" width="4.7" height="6.31" fill="#ffff00"/>
<rect x="363.0" y="585.55" width="2.3" height="6.31" fill="#1aa0f8"/>
<rect x="366.0" y="585.55" width="6.6" height="6.31" fill="#ffff00"/>
<rect x="373.2" y="585.55" width="3.1" height="6.31" fill="#ffff00"/>
<rect x="376.3" y="585.55" width="3.1" height="6.31" fill="#1aa0f8"/>
<rect x="380.0" y="585.55" width="6.6" height="6.31" fill="#ffff00"/>
<rect x="311.7" y="591.86" width="6.3" height="6.31" fill="#ffff00"/>
<rect x="318.7" y="591.86" width="3.7" height="6.31" fill="#ffff00"/>
<rect x="323.1" y="591.86" width="3.4" height="6.31" fill="#ffff00"/>
<rect x="327.9" y="591.86" width="3.2" height="6.31" fill="#ffff00"/>
<rect x="331.7" y="591.86" width="3.4" height="6.31" fill="#ffff00"/>
<rect x="336.2" y="591.86" width="4.1" height="6.31" fill="#ffff00"/>
<rect x="341.5" y="591.86" width="5.5" height="6.31" fill="#ffff00"/>
<rect x="347.6" y="591.86" width="5.7" height="6.31" fill="#ffff00"/>
<rect x="353.8" y="591.86" width="6.1" height="6.31" fill="#ffff00"/>
<rect x="360.5" y="591.86" width="2.9" height="6.31" fill="#ffff00"/>
<rect x="363.4" y="591.86" width="2.9" height="6.31" fill="#1aa0f8"/>
<rect x="366.8" y="591.86" width="5.4" height="6.31" fill="#ffff00"/>
<rect x="372.7" y="591.86" width="2.9" height="6.31" fill="#ffff00"/>
<rect x="375.5" y="591.86" width="2.9" height="6.31" fill="#1aa0f8"/>
<rect x="313.7" y="598.16" width="5.5" height="6.31" fill="#ffff00"/>
<rect x="319.8" y="598.16" width="3.2" height="6.31" fill="#ffff00"/>
<rect x="323.7" y="598.16" width="3.0" height="6.31" fill="#ffff00"/>
<rect x="327.8" y="598.16" width="2.7" height="6.31" fill="#ffff00"/>
<rect x="331.0" y="598.16" width="2.9" height="6.31" fill="#ffff00"/>
<rect x="334.9" y="598.16" width="3.5" height="6.31" fill="#ffff00"/>
<rect x="339.5" y="598.16" width="4.8" height="6.31" fill="#ffff00"/>
<rect x="344.7" y="598.16" width="4.9" height="6.31" fill="#ffff00"/>
<rect x="350.1" y="598.16" width="2.6" height="6.31" fill="#1aa0f8"/>
<rect x="352.8" y="598.16" width="2.6" height="6.31" fill="#ffff00"/>
<rect x="355.9" y="598.16" width="4.9" height="6.31" fill="#ffff00"/>
<rect x="361.3" y="598.16" width="2.3" height="6.31" fill="#1aa0f8"/>
<rect x="363.6" y="598.16" width="2.3" height="6.31" fill="#ffff00"/>
<rect x="366.4" y="598.16" width="4.9" height="6.31" fill="#ffff00"/>
<rect x="317.0" y="604.47" width="4.4" height="6.31" fill="#ffff00"/>
<rect x="322.0" y="604.47" width="2.6" height="6.31" fill="#ffff00"/>
<rect x="325.1" y="604.47" width="2.4" height="6.31" fill="#ffff00"/>
<rect x="328.5" y="604.47" width="2.2" height="6.31" fill="#ffff00"/>
<rect x="331.0" y="604.47" width="2.4" height="6.31" fill="#ffff00"/>
<rect x="334.2" y="604.47" width="2.9" height="6.31" fill="#ffff00"/>
<rect x="337.8" y="604.47" width="3.8" height="6.31" fill="#ffff00"/>
<rect x="342.1" y="604.47" width="2.0" height="6.31" fill="#1aa0f8"/>
<rect x="344.0" y="604.47" width="2.0" height="6.31" fill="#ffff00"/>
<rect x="346.4" y="604.47" width="4.2" height="6.31" fill="#ffff00"/>
<rect x="351.0" y="604.47" width="4.0" height="6.31" fill="#1aa0f8"/>
<rect x="355.3" y="604.47" width="3.7" height="6.31" fill="#ffff00"/>
<rect x="359.4" y="604.47" width="4.0" height="6.31" fill="#ffff00"/>
<rect x="318.6" y="610.78" width="3.5" height="6.31" fill="#ffff00"/>
<rect x="322.5" y="610.78" width="2.1" height="6.31" fill="#ffff00"/>
<rect x="325.1" y="610.78" width="1.9" height="6.31" fill="#ffff00"/>
<rect x="327.6" y="610.78" width="1.7" height="6.31" fill="#ffff00"/>
<rect x="329.7" y="610.78" width="1.8" height="6.31" fill="#ffff00"/>
<rect x="332.1" y="610.78" width="2.2" height="6.31" fill="#ffff00"/>
<rect x="335.0" y="610.78" width="6.4" height="6.31" fill="#ffff00"/>
<rect x="341.6" y="610.78" width="3.3" height="6.31" fill="#1aa0f8"/>
<rect x="345.2" y="610.78" width="3.1" height="6.31" fill="#ffff00"/>
<rect x="348.6" y="610.78" width="2.9" height="6.31" fill="#1aa0f8"/>
<rect x="351.8" y="610.78" width="3.1" height="6.31" fill="#ffff00"/>
<rect x="322.3" y="617.09" width="23.7" height="6.31" fill="#ffff00"/>
<rect x="322.3" y="623.40" width="14.8" height="6.31" fill="#ffff00"/>
<rect x="317.8" y="629.71" width="7.1" height="6.31" fill="#ffff00"/>
<rect x="311.9" y="636.02" width="5.2" height="6.31" fill="#ffff00"/>
<polygon points="444.0,27.2 449.2,27.2 449.4,420.0 446.5,420.0" fill="#fff" />
<line x1="449.7" y1="119.6" x2="449.9" y2="497" stroke="#ff5aa8" stroke-width="1.4" opacity="0.8"/>
<rect x="440" y="27.2" width="3" height="27.4" fill="#e6ffc8"/>
<rect x="96.5" y="27.2" width="4.6" height="72.6" fill="#62fa00"/>
<polyline points="102.5,47.0 103.4,49.8 121.7,103.2 134.9,140.0 158.8,200.0 188.5,280.0 222.0,362.0 251.0,440.0 265.0,480.0 285.5,539.0 298.0,580.0 305.0,600.0 310.0,615.0" fill="none" stroke="#9cc888" stroke-width="1.7"/>
</g>
<rect x="96.5" y="27.2" width="899.1" height="630.9" fill="none" stroke="#000" stroke-width="2.6"/>
<line x1="82.4" y1="658.1" x2="97" y2="658.1" stroke="#000" stroke-width="2.6"/>
<line x1="981" y1="658.1" x2="995.6" y2="658.1" stroke="#000" stroke-width="2.6"/>
<line x1="88.2" y1="626.6" x2="97" y2="626.6" stroke="#000" stroke-width="2.6"/>
<line x1="987" y1="626.6" x2="995.6" y2="626.6" stroke="#000" stroke-width="2.6"/>
<line x1="82.4" y1="595.0" x2="97" y2="595.0" stroke="#000" stroke-width="2.6"/>
<line x1="981" y1="595.0" x2="995.6" y2="595.0" stroke="#000" stroke-width="2.6"/>
<line x1="88.2" y1="563.5" x2="97" y2="563.5" stroke="#000" stroke-width="2.6"/>
<line x1="987" y1="563.5" x2="995.6" y2="563.5" stroke="#000" stroke-width="2.6"/>
<line x1="82.4" y1="531.9" x2="97" y2="531.9" stroke="#000" stroke-width="2.6"/>
<line x1="981" y1="531.9" x2="995.6" y2="531.9" stroke="#000" stroke-width="2.6"/>
<line x1="88.2" y1="500.4" x2="97" y2="500.4" stroke="#000" stroke-width="2.6"/>
<line x1="987" y1="500.4" x2="995.6" y2="500.4" stroke="#000" stroke-width="2.6"/>
<line x1="82.4" y1="468.8" x2="97" y2="468.8" stroke="#000" stroke-width="2.6"/>
<line x1="981" y1="468.8" x2="995.6" y2="468.8" stroke="#000" stroke-width="2.6"/>
<line x1="88.2" y1="437.3" x2="97" y2="437.3" stroke="#000" stroke-width="2.6"/>
<line x1="987" y1="437.3" x2="995.6" y2="437.3" stroke="#000" stroke-width="2.6"/>
<line x1="82.4" y1="405.7" x2="97" y2="405.7" stroke="#000" stroke-width="2.6"/>
<line x1="981" y1="405.7" x2="995.6" y2="405.7" stroke="#000" stroke-width="2.6"/>
<line x1="88.2" y1="374.2" x2="97" y2="374.2" stroke="#000" stroke-width="2.6"/>
<line x1="987" y1="374.2" x2="995.6" y2="374.2" stroke="#000" stroke-width="2.6"/>
<line x1="82.4" y1="342.7" x2="97" y2="342.7" stroke="#000" stroke-width="2.6"/>
<line x1="981" y1="342.7" x2="995.6" y2="342.7" stroke="#000" stroke-width="2.6"/>
<line x1="88.2" y1="311.1" x2="97" y2="311.1" stroke="#000" stroke-width="2.6"/>
<line x1="987" y1="311.1" x2="995.6" y2="311.1" stroke="#000" stroke-width="2.6"/>
<line x1="82.4" y1="279.6" x2="97" y2="279.6" stroke="#000" stroke-width="2.6"/>
<line x1="981" y1="279.6" x2="995.6" y2="279.6" stroke="#000" stroke-width="2.6"/>
<line x1="88.2" y1="248.0" x2="97" y2="248.0" stroke="#000" stroke-width="2.6"/>
<line x1="987" y1="248.0" x2="995.6" y2="248.0" stroke="#000" stroke-width="2.6"/>
<line x1="82.4" y1="216.5" x2="97" y2="216.5" stroke="#000" stroke-width="2.6"/>
<line x1="981" y1="216.5" x2="995.6" y2="216.5" stroke="#000" stroke-width="2.6"/>
<line x1="88.2" y1="184.9" x2="97" y2="184.9" stroke="#000" stroke-width="2.6"/>
<line x1="987" y1="184.9" x2="995.6" y2="184.9" stroke="#000" stroke-width="2.6"/>
<line x1="82.4" y1="153.4" x2="97" y2="153.4" stroke="#000" stroke-width="2.6"/>
<line x1="981" y1="153.4" x2="995.6" y2="153.4" stroke="#000" stroke-width="2.6"/>
<line x1="88.2" y1="121.8" x2="97" y2="121.8" stroke="#000" stroke-width="2.6"/>
<line x1="987" y1="121.8" x2="995.6" y2="121.8" stroke="#000" stroke-width="2.6"/>
<line x1="82.4" y1="90.3" x2="97" y2="90.3" stroke="#000" stroke-width="2.6"/>
<line x1="981" y1="90.3" x2="995.6" y2="90.3" stroke="#000" stroke-width="2.6"/>
<line x1="88.2" y1="58.7" x2="97" y2="58.7" stroke="#000" stroke-width="2.6"/>
<line x1="987" y1="58.7" x2="995.6" y2="58.7" stroke="#000" stroke-width="2.6"/>
<line x1="82.4" y1="27.2" x2="97" y2="27.2" stroke="#000" stroke-width="2.6"/>
<line x1="981" y1="27.2" x2="995.6" y2="27.2" stroke="#000" stroke-width="2.6"/>
<line x1="141.5" y1="658" x2="141.5" y2="672.2" stroke="#000" stroke-width="2.6"/>
<line x1="141.5" y1="27" x2="141.5" y2="41.5" stroke="#000" stroke-width="2.6"/>
<line x1="231.4" y1="658" x2="231.4" y2="665.4" stroke="#000" stroke-width="2.6"/>
<line x1="231.4" y1="27" x2="231.4" y2="35.5" stroke="#000" stroke-width="2.6"/>
<line x1="321.3" y1="658" x2="321.3" y2="672.2" stroke="#000" stroke-width="2.6"/>
<line x1="321.3" y1="27" x2="321.3" y2="41.5" stroke="#000" stroke-width="2.6"/>
<line x1="411.2" y1="658" x2="411.2" y2="665.4" stroke="#000" stroke-width="2.6"/>
<line x1="411.2" y1="27" x2="411.2" y2="35.5" stroke="#000" stroke-width="2.6"/>
<line x1="501.1" y1="658" x2="501.1" y2="672.2" stroke="#000" stroke-width="2.6"/>
<line x1="501.1" y1="27" x2="501.1" y2="41.5" stroke="#000" stroke-width="2.6"/>
<line x1="591.0" y1="658" x2="591.0" y2="665.4" stroke="#000" stroke-width="2.6"/>
<line x1="591.0" y1="27" x2="591.0" y2="35.5" stroke="#000" stroke-width="2.6"/>
<line x1="680.9" y1="658" x2="680.9" y2="672.2" stroke="#000" stroke-width="2.6"/>
<line x1="680.9" y1="27" x2="680.9" y2="41.5" stroke="#000" stroke-width="2.6"/>
<line x1="770.9" y1="658" x2="770.9" y2="665.4" stroke="#000" stroke-width="2.6"/>
<line x1="770.9" y1="27" x2="770.9" y2="35.5" stroke="#000" stroke-width="2.6"/>
<line x1="860.8" y1="658" x2="860.8" y2="672.2" stroke="#000" stroke-width="2.6"/>
<line x1="860.8" y1="27" x2="860.8" y2="41.5" stroke="#000" stroke-width="2.6"/>
<line x1="950.7" y1="658" x2="950.7" y2="665.4" stroke="#000" stroke-width="2.6"/>
<line x1="950.7" y1="27" x2="950.7" y2="35.5" stroke="#000" stroke-width="2.6"/>
<text transform="translate(75.6,669.0) scale(0.975,1)" text-anchor="end" class="tl">0</text>
<text transform="translate(75.6,605.9) scale(0.975,1)" text-anchor="end" class="tl">20</text>
<text transform="translate(75.6,542.8) scale(0.975,1)" text-anchor="end" class="tl">40</text>
<text transform="translate(75.6,479.7) scale(0.975,1)" text-anchor="end" class="tl">60</text>
<text transform="translate(75.6,416.6) scale(0.975,1)" text-anchor="end" class="tl">80</text>
<text transform="translate(75.6,353.6) scale(0.975,1)" text-anchor="end" class="tl">100</text>
<text transform="translate(75.6,290.5) scale(0.975,1)" text-anchor="end" class="tl">120</text>
<text transform="translate(75.6,227.4) scale(0.975,1)" text-anchor="end" class="tl">140</text>
<text transform="translate(75.6,164.3) scale(0.975,1)" text-anchor="end" class="tl">160</text>
<text transform="translate(75.6,101.2) scale(0.975,1)" text-anchor="end" class="tl">180</text>
<text transform="translate(75.6,38.1) scale(0.975,1)" text-anchor="end" class="tl">200</text>
<text transform="translate(141.6,711.3) scale(0.97,1)" text-anchor="middle" class="tl">-200</text>
<text transform="translate(321.4,711.3) scale(0.97,1)" text-anchor="middle" class="tl">0</text>
<text transform="translate(501.2,711.3) scale(0.97,1)" text-anchor="middle" class="tl">200</text>
<text transform="translate(681.0,711.3) scale(0.97,1)" text-anchor="middle" class="tl">400</text>
<text transform="translate(860.9,711.3) scale(0.97,1)" text-anchor="middle" class="tl">600</text>
<text transform="translate(547.2,793) scale(0.96,1)" text-anchor="middle" class="title">Position x, nm</text>
<rect x="118" y="585" width="29.4" height="51.0" fill="#fff"/>
<text x="133.0" y="621.8" text-anchor="middle" class="an">1</text>
<rect x="157.3" y="416.8" width="25.5" height="49.0" fill="#fff"/>
<text x="170.4" y="452.6" text-anchor="middle" class="an">2</text>
<rect x="234.5" y="569.1" width="25.6" height="48.9" fill="#fff"/>
<text x="247.6" y="604.8" text-anchor="middle" class="an">9</text>
<rect x="311.3" y="524.5" width="24.7" height="49.0" fill="#fff"/>
<text x="323.9" y="560.3" text-anchor="middle" class="an">3</text>
<rect x="493.9" y="260.4" width="24.8" height="48.3" fill="#fff"/>
<text x="506.6" y="295.8" text-anchor="middle" class="an">4</text>
<rect x="678" y="217.1" width="25.8" height="49.9" fill="#fff"/>
<text x="691.2" y="253.4" text-anchor="middle" class="an">5</text>
<rect x="749.3" y="455" width="25.7" height="49.6" fill="#fff"/>
<text x="762.4" y="491.1" text-anchor="middle" class="an">6</text>
<rect x="487" y="504.9" width="25.8" height="49.0" fill="#fff"/>
<text x="500.2" y="540.7" text-anchor="middle" class="an">7</text>
<rect x="474.4" y="592.5" width="25.4" height="49.3" fill="#fff"/>
<text x="487.4" y="628.4" text-anchor="middle" class="an">8</text>
<line x1="486.5" y1="273.8" x2="430.8" y2="250.8" stroke="#000" stroke-width="2.2"/>
<polygon points="423.4,247.8 436.4,249.1 433.6,252.0 433.5,256.0" fill="#000" />
<line x1="485.7" y1="301.3" x2="432.6" y2="331.5" stroke="#000" stroke-width="2.2"/>
<polygon points="425.6,335.4 434.6,326.0 435.2,330.0 438.3,332.4" fill="#000" />
<line x1="481.9" y1="517.7" x2="447.6" y2="490.8" stroke="#000" stroke-width="2.2"/>
<polygon points="441.3,485.9 453.4,490.7 450.0,492.7 448.9,496.5" fill="#000" />
<line x1="481.9" y1="544" x2="443.2" y2="565.4" stroke="#000" stroke-width="2.2"/>
<polygon points="436.2,569.3 445.3,560.0 445.8,564.0 448.9,566.5" fill="#000" />
<line x1="461.4" y1="620.3" x2="383.5" y2="618.6" stroke="#000" stroke-width="2.2"/>
<polygon points="375.5,618.4 388.1,615.0 386.5,618.6 387.9,622.4" fill="#000" />
<line x1="266.2" y1="600.7" x2="302.4" y2="637.3" stroke="#000" stroke-width="2.2"/>
<polygon points="308.0,643.0 296.6,636.7 300.3,635.2 301.8,631.5" fill="#000" />
</svg>
</body></html>
